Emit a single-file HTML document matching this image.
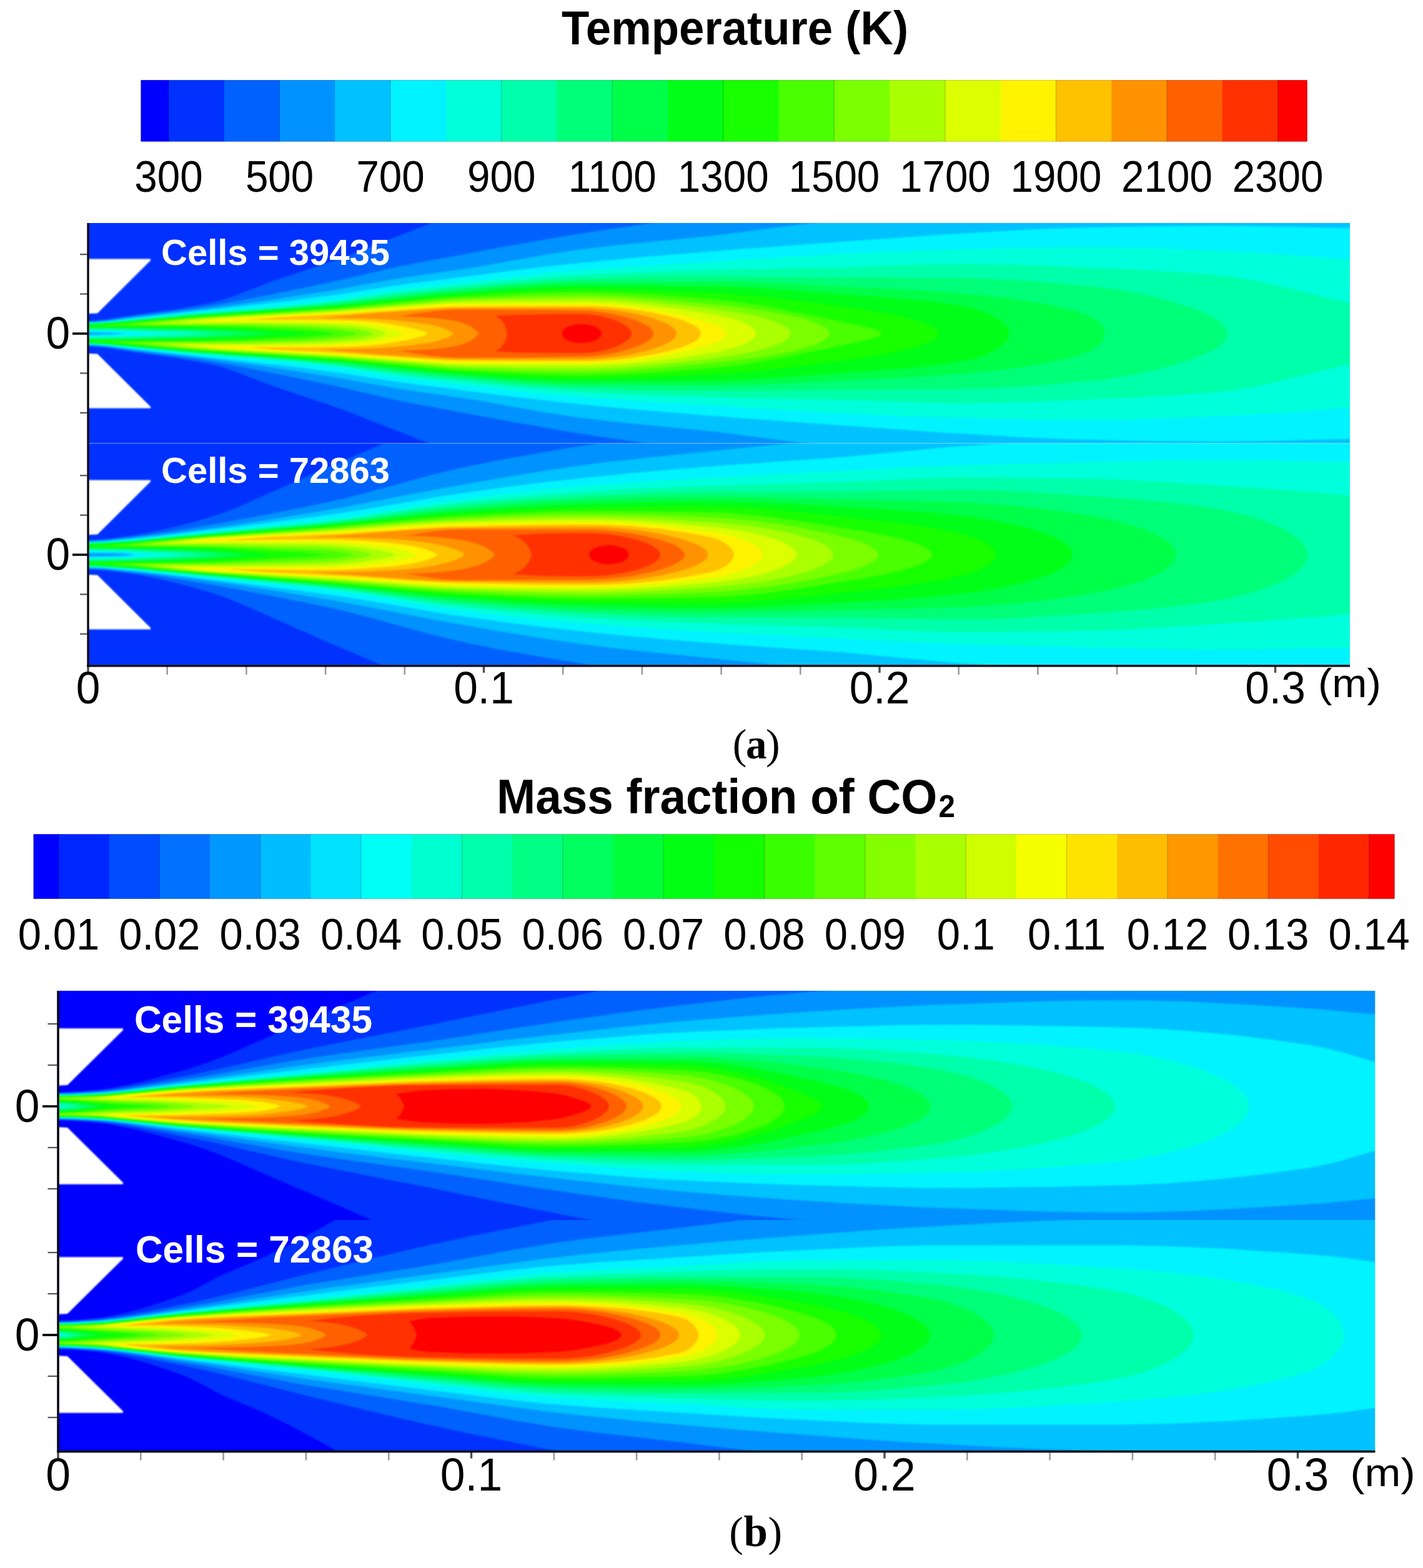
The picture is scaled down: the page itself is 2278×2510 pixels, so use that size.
<!DOCTYPE html>
<html lang="en"><head><meta charset="utf-8"><title>Figure</title>
<style>html,body{margin:0;padding:0;background:#fff}svg{display:block}</style></head>
<body>
<svg xmlns="http://www.w3.org/2000/svg" width="2278" height="2510" viewBox="0 0 2278 2510">
<defs><filter id="soft" x="-2%" y="-5%" width="104%" height="110%" color-interpolation-filters="sRGB"><feGaussianBlur stdDeviation="1.3"/></filter></defs>
<rect width="2278" height="2510" fill="#fff"/>
<text transform="translate(1176.5,71.2) scale(1,1.0407)" font-family="'Liberation Sans', Arial, Helvetica, sans-serif" font-size="72.6" font-weight="bold" text-anchor="middle" fill="#000">Temperature (K)</text>
<rect x="225.50" y="128.20" width="45.10" height="98.40" fill="#0000ff"/>
<rect x="270.00" y="128.20" width="89.38" height="98.40" fill="#0031ff"/>
<rect x="358.78" y="128.20" width="89.38" height="98.40" fill="#0061ff"/>
<rect x="447.56" y="128.20" width="89.38" height="98.40" fill="#0092ff"/>
<rect x="536.34" y="128.20" width="89.38" height="98.40" fill="#00c2ff"/>
<rect x="625.12" y="128.20" width="89.38" height="98.40" fill="#00f3ff"/>
<rect x="713.90" y="128.20" width="89.38" height="98.40" fill="#00ffdb"/>
<rect x="802.68" y="128.20" width="89.38" height="98.40" fill="#00ffaa"/>
<rect x="891.46" y="128.20" width="89.38" height="98.40" fill="#00ff79"/>
<rect x="980.24" y="128.20" width="89.38" height="98.40" fill="#00ff49"/>
<rect x="1069.02" y="128.20" width="89.38" height="98.40" fill="#00ff18"/>
<rect x="1157.80" y="128.20" width="89.38" height="98.40" fill="#18ff00"/>
<rect x="1246.58" y="128.20" width="89.38" height="98.40" fill="#49ff00"/>
<rect x="1335.36" y="128.20" width="89.38" height="98.40" fill="#79ff00"/>
<rect x="1424.14" y="128.20" width="89.38" height="98.40" fill="#aaff00"/>
<rect x="1512.92" y="128.20" width="89.38" height="98.40" fill="#dbff00"/>
<rect x="1601.70" y="128.20" width="89.38" height="98.40" fill="#fff300"/>
<rect x="1690.48" y="128.20" width="89.38" height="98.40" fill="#ffc200"/>
<rect x="1779.26" y="128.20" width="89.38" height="98.40" fill="#ff9200"/>
<rect x="1868.04" y="128.20" width="89.38" height="98.40" fill="#ff6100"/>
<rect x="1956.82" y="128.20" width="89.38" height="98.40" fill="#ff3100"/>
<rect x="2045.60" y="128.20" width="47.20" height="98.40" fill="#ff0000"/>
<rect x="269.40" y="128.20" width="1.2" height="98.40" fill="#000" opacity="0.2"/>
<rect x="446.96" y="128.20" width="1.2" height="98.40" fill="#000" opacity="0.2"/>
<rect x="624.52" y="128.20" width="1.2" height="98.40" fill="#000" opacity="0.2"/>
<rect x="802.08" y="128.20" width="1.2" height="98.40" fill="#000" opacity="0.2"/>
<rect x="979.64" y="128.20" width="1.2" height="98.40" fill="#000" opacity="0.2"/>
<rect x="1157.20" y="128.20" width="1.2" height="98.40" fill="#000" opacity="0.2"/>
<rect x="1334.76" y="128.20" width="1.2" height="98.40" fill="#000" opacity="0.2"/>
<rect x="1512.32" y="128.20" width="1.2" height="98.40" fill="#000" opacity="0.2"/>
<rect x="1689.88" y="128.20" width="1.2" height="98.40" fill="#000" opacity="0.2"/>
<rect x="1867.44" y="128.20" width="1.2" height="98.40" fill="#000" opacity="0.2"/>
<rect x="2045.00" y="128.20" width="1.2" height="98.40" fill="#000" opacity="0.2"/>
<rect x="226.00" y="128.70" width="1865.70" height="97.40" fill="none" stroke="#000" stroke-opacity="0.18" stroke-width="1"/>
<text transform="translate(270.0,307.0) scale(1,1.0650)" font-family="'Liberation Sans', Arial, Helvetica, sans-serif" font-size="65.6" font-weight="normal" text-anchor="middle" fill="#000">300</text>
<text transform="translate(447.6,307.0) scale(1,1.0650)" font-family="'Liberation Sans', Arial, Helvetica, sans-serif" font-size="65.6" font-weight="normal" text-anchor="middle" fill="#000">500</text>
<text transform="translate(625.1,307.0) scale(1,1.0650)" font-family="'Liberation Sans', Arial, Helvetica, sans-serif" font-size="65.6" font-weight="normal" text-anchor="middle" fill="#000">700</text>
<text transform="translate(802.7,307.0) scale(1,1.0650)" font-family="'Liberation Sans', Arial, Helvetica, sans-serif" font-size="65.6" font-weight="normal" text-anchor="middle" fill="#000">900</text>
<text transform="translate(980.2,307.0) scale(1,1.0650)" font-family="'Liberation Sans', Arial, Helvetica, sans-serif" font-size="65.6" font-weight="normal" text-anchor="middle" fill="#000">1100</text>
<text transform="translate(1157.8,307.0) scale(1,1.0650)" font-family="'Liberation Sans', Arial, Helvetica, sans-serif" font-size="65.6" font-weight="normal" text-anchor="middle" fill="#000">1300</text>
<text transform="translate(1335.4,307.0) scale(1,1.0650)" font-family="'Liberation Sans', Arial, Helvetica, sans-serif" font-size="65.6" font-weight="normal" text-anchor="middle" fill="#000">1500</text>
<text transform="translate(1512.9,307.0) scale(1,1.0650)" font-family="'Liberation Sans', Arial, Helvetica, sans-serif" font-size="65.6" font-weight="normal" text-anchor="middle" fill="#000">1700</text>
<text transform="translate(1690.5,307.0) scale(1,1.0650)" font-family="'Liberation Sans', Arial, Helvetica, sans-serif" font-size="65.6" font-weight="normal" text-anchor="middle" fill="#000">1900</text>
<text transform="translate(1868.0,307.0) scale(1,1.0650)" font-family="'Liberation Sans', Arial, Helvetica, sans-serif" font-size="65.6" font-weight="normal" text-anchor="middle" fill="#000">2100</text>
<text transform="translate(2045.6,307.0) scale(1,1.0650)" font-family="'Liberation Sans', Arial, Helvetica, sans-serif" font-size="65.6" font-weight="normal" text-anchor="middle" fill="#000">2300</text>
<clipPath id="at"><rect x="140.3" y="357.0" width="2020.7" height="352.8"/></clipPath>
<g clip-path="url(#at)"><g filter="url(#soft)">
<rect x="128.3" y="345.0" width="2044.7" height="376.8" fill="#0031ff"/>
<path d="M132.3,513.5 147,513.2 169,511.3 211,504.5 287,493.9 329,486.5 345,483.1 359,479.2 381,471.6 437,450 521,422 559,408.4 755,331.5 851,293.2 909,271.5 967,252.4 1029,233.5 1087,217.4 1141,204 2171,204 2171,864 1141,864 1087,850.6 1029,834.5 967,815.6 909,796.5 851,774.8 755,736.5 559,659.6 521,646 437,618 381,596.4 359,588.8 345,584.9 329,581.5 287,574.1 211,563.5 169,556.7 147,554.8 132.3,554.5Z" fill="#0061ff"/>
<path d="M132.3,514.6 149,514.2 171,512.4 209,506.7 313,493.2 361,485.6 405,477.2 497,458.5 551,446.8 625,429.6 663,421.7 809,394.5 905,377.8 967,368.1 1039,357.7 1249,328.9 1307,322 1343,318.9 1433,313 1487,310.4 1536,309.1 2171,309 2171,759 1536,758.9 1487,757.6 1433,755 1343,749.1 1307,746 1249,739.1 1039,710.3 967,699.9 905,690.2 809,673.5 663,646.3 625,638.4 551,621.2 497,609.5 405,590.8 361,582.4 313,574.8 209,561.3 171,555.6 149,553.8 132.3,553.4Z" fill="#0092ff"/>
<path d="M132.3,515.7 149,515.3 171,513.6 213,507.9 337,493.5 421,482 531,464.7 639,445.5 757,428.5 875,407.5 925,399.8 989,392.3 1145,377 1267,361.1 1317,355.8 1375,352.1 1455,348.7 1551,345.7 1663,343.2 1897,340.1 2170,340 2170,728 1897,727.9 1663,724.8 1551,722.3 1455,719.3 1375,715.9 1317,712.2 1267,706.9 1145,691 989,675.7 925,668.2 875,660.5 757,639.5 639,622.5 531,603.3 421,586 337,574.5 213,560.1 171,554.4 149,552.7 132.3,552.3Z" fill="#00c2ff"/>
<path d="M132.3,516.5 149,516.2 171,514.6 213,509.4 461,481.9 545,471 627,458.1 671,451.9 803,435.3 885,425.6 945,419.3 1019,412.3 1181,398.9 1509,375.6 1637,368.1 1709,364.9 1839,362.2 1945,361.3 2017,362.1 2170,365.5 2170,702.5 2017,705.9 1945,706.7 1839,705.8 1709,703.1 1637,699.9 1509,692.4 1181,669.1 1019,655.7 945,648.7 885,642.4 803,632.7 671,616.1 627,609.9 545,597 461,586.1 213,558.6 171,553.4 149,551.8 132.3,551.5Z" fill="#00f3ff"/>
<path d="M132.3,517 147,516.8 169,515.5 315,500.4 431,491.1 479,486.4 549,477.9 621,465.9 651,461.7 851,439.6 903,434.4 989,427.9 1135,419.4 1271,410.4 1333,406.9 1439,402.3 1531,399.3 1675,395.9 1767,395.4 1847,397.4 1977,402.6 2061,407.8 2170,416 2170,652 2061,660.2 1977,665.4 1847,670.6 1767,672.6 1675,672.1 1531,668.7 1439,665.7 1333,661.1 1271,657.6 1135,648.6 989,640.1 903,633.6 851,628.4 651,606.3 621,602.1 549,590.1 479,581.6 431,576.9 315,567.6 169,552.5 147,551.2 132.3,551Z" fill="#00ffdb"/>
<path d="M132.3,517.5 147,517.3 169,516 311,502.1 429,493.4 473,489.6 547,481.4 625,469.8 673,464 829,448.4 909,441.8 1007,436.7 1117,432.7 1347,427.9 1491,423.2 1557,422.7 1645,424.6 1817,431.5 1907,436.9 1945,440 1967,442.5 1999,447.5 2035,454.7 2067,462.2 2131,478.5 2161,485.3 2231,497.5 2293,510 2351,523.1 2393.7,534 2393.7,534 2351,544.9 2293,558 2231,570.5 2161,582.7 2131,589.5 2067,605.8 2035,613.3 1999,620.5 1967,625.5 1945,628 1907,631.1 1817,636.5 1645,643.4 1557,645.3 1491,644.8 1347,640.1 1117,635.3 1007,631.3 909,626.2 829,619.6 673,604 625,598.2 547,586.6 473,578.4 429,574.6 311,565.9 169,552 147,550.7 132.3,550.5Z" fill="#00ffaa"/>
<path d="M132.3,518 147,517.8 171,516.4 315,503.1 429,494.9 477,490.9 547,483.8 633,472.4 709,464.1 831,452.8 901,447.9 1019,444.1 1123,442.4 1519,445 1559,445.5 1595,446.7 1635,448.9 1679,452 1761,459.7 1791,463.9 1819,469 1849,475.6 1879,483.5 1907,492.5 1929,501.2 1945,509.2 1955,516.4 1959,520.4 1962,524.4 1964,528.4 1965,534 1965,534 1964,539.6 1962,543.6 1959,547.6 1955,551.6 1945,558.8 1929,566.8 1907,575.5 1879,584.5 1849,592.4 1819,599 1791,604.1 1761,608.3 1679,616 1635,619.1 1595,621.3 1559,622.5 1519,623 1123,625.6 1019,623.9 901,620.1 831,615.2 709,603.9 633,595.6 547,584.2 477,577.1 429,573.1 315,564.9 171,551.6 147,550.2 132.3,550Z" fill="#00ff79"/>
<path d="M132.3,518.7 149,518.4 173,517.1 319,503.9 437,495.7 505,490.3 553,485.7 631,476.1 705,468.1 811,458.6 859,454.9 895,452.9 927,452 1157,451.1 1197,451.8 1245,453.6 1457,463.8 1507,467 1551,470.6 1589,474.3 1625,478.7 1661,484.3 1691,490.1 1717,496.6 1739,503.8 1745,506.4 1751,509.7 1757,514 1761,517.7 1764,521.1 1767,525.9 1768.5,530 1769,534 1769,534 1768.5,538 1767,542.1 1764,546.9 1761,550.3 1757,554 1751,558.3 1745,561.6 1739,564.2 1717,571.4 1691,577.9 1661,583.7 1625,589.3 1589,593.7 1551,597.4 1507,601 1457,604.2 1245,614.4 1197,616.2 1157,616.9 927,616 895,615.1 859,613.1 811,609.4 705,599.9 631,591.9 553,582.3 505,577.7 437,572.3 319,564.1 173,550.9 149,549.6 132.3,549.3Z" fill="#00ff49"/>
<path d="M132.3,519.7 147,519.5 171,518.2 323,504.8 529,490.3 559,487.5 631,479.2 711,470.9 849,460 887,458.1 923,457.2 1115,458.1 1177,459.3 1241,462.9 1451,478.6 1491,482.5 1525,486.9 1545,490.3 1559,493.6 1575,499 1589,505.2 1601,512.5 1609,519.3 1613,524.4 1614.5,527.2 1615.5,530.1 1616,534 1616,534 1615.5,537.9 1614.5,540.8 1613,543.6 1609,548.7 1601,555.5 1589,562.8 1575,569 1559,574.4 1545,577.7 1525,581.1 1491,585.5 1451,589.4 1241,605.1 1177,608.7 1115,609.9 923,610.8 887,609.9 849,608 711,597.1 631,588.8 559,580.5 529,577.7 323,563.2 171,549.8 147,548.5 132.3,548.3Z" fill="#00ff18"/>
<path d="M141,522.5 169,519.3 317,506.4 545,491.1 687,476.3 733,472.2 815,466.5 863,463.9 907,462.4 951,462.3 1041,464.5 1163,470.3 1231,476.1 1311,485.6 1361,492.2 1397,497.8 1429,503.6 1455,509.5 1475,515.2 1491,521.7 1497,525.3 1500,527.8 1502,530.4 1503,534 1503,534 1502,537.6 1500,540.2 1497,542.7 1491,546.3 1475,552.8 1455,558.5 1429,564.4 1397,570.2 1361,575.8 1311,582.4 1231,591.9 1163,597.7 1041,603.5 951,605.7 907,605.6 863,604.1 815,601.5 733,595.8 687,591.7 545,576.9 317,561.6 169,548.7 141,545.5Z" fill="#18ff00"/>
<path d="M170.3,521.7 218.3,516 278.3,510.5 354.3,504.9 542.3,493.2 692.3,478.6 728.3,475.6 854.3,468.9 902.3,467.6 944.3,467.4 996.3,468.9 1056.3,472.3 1148.3,479.6 1190.3,484.6 1218.3,489 1248.3,494.5 1376.3,521.1 1392.3,525 1403,528.3 1409.5,531.6 1411,534 1411,534 1409.5,536.4 1403,539.7 1392.3,543 1376.3,546.9 1248.3,573.5 1218.3,579 1190.3,583.4 1148.3,588.4 1056.3,595.7 996.3,599.1 944.3,600.6 902.3,600.4 854.3,599.1 728.3,592.4 692.3,589.4 542.3,574.8 354.3,563.1 278.3,557.5 218.3,552 170.3,546.3Z" fill="#49ff00"/>
<path d="M210.5,519.8 252.5,514.5 306.5,509.6 358.5,505.9 542.5,495 724.5,478.8 848.5,473.8 900.5,472.7 944.5,472.6 998.5,474.5 1060.5,479.2 1164.5,489.5 1196.5,493.4 1224.5,497.5 1268.5,505.8 1286.5,510.3 1300.5,514.6 1312.5,519.4 1320.5,523.8 1324.5,527.1 1326.5,529.4 1328,534 1328,534 1326.5,538.6 1324.5,540.9 1320.5,544.2 1312.5,548.6 1300.5,553.4 1286.5,557.7 1268.5,562.2 1224.5,570.5 1196.5,574.6 1164.5,578.5 1060.5,588.8 998.5,593.5 944.5,595.4 900.5,595.3 848.5,594.2 724.5,589.2 542.5,573 358.5,562.1 306.5,558.4 252.5,553.5 210.5,548.2Z" fill="#79ff00"/>
<path d="M242.8,518.9 282.8,513.6 330.8,509.1 542.8,496.7 720.8,481.9 762.8,480.3 838.8,478.4 944.8,477.6 994.8,479.5 1048.8,483.7 1142.8,494.2 1180.8,499.9 1216.8,507.5 1232.8,512.1 1244.8,516.4 1254,520.7 1260.8,525.3 1264.8,529.8 1266,534 1266,534 1264.8,538.2 1260.8,542.7 1254,547.3 1244.8,551.6 1232.8,555.9 1216.8,560.5 1180.8,568.1 1142.8,573.8 1048.8,584.3 994.8,588.5 944.8,590.4 838.8,589.6 762.8,587.7 720.8,586.1 542.8,571.3 330.8,558.9 282.8,554.4 242.8,549.1Z" fill="#aaff00"/>
<path d="M280.4,517.3 312.4,512.8 346.4,509.6 540.4,498.6 718.4,484.7 740.4,484 818.4,483 946.4,482.6 992.4,484.6 1042.4,489 1094.4,495.6 1148.4,504.4 1172.4,510.2 1184.4,514.2 1193,517.8 1200.4,521.9 1205,525.2 1208.5,529.2 1210,534 1210,534 1208.5,538.8 1205,542.8 1200.4,546.1 1193,550.2 1184.4,553.8 1172.4,557.8 1148.4,563.6 1094.4,572.4 1042.4,579 992.4,583.4 946.4,585.4 818.4,585 740.4,584 718.4,583.3 540.4,569.4 346.4,558.4 312.4,555.2 280.4,550.7Z" fill="#dbff00"/>
<path d="M323.8,514.8 339.8,512.3 363.8,510.3 541.8,500.5 689.8,489.3 717.8,487.6 773.8,486.9 943.8,486.7 979.8,488.5 1015.8,492 1053.8,497.5 1091.8,504.8 1123.8,512.7 1145.8,519.8 1151.8,522.7 1157.8,526.8 1161,530.5 1162,534 1162,534 1161,537.5 1157.8,541.2 1151.8,545.3 1145.8,548.2 1123.8,555.3 1091.8,563.2 1053.8,570.5 1015.8,576 979.8,579.5 943.8,581.3 773.8,581.1 717.8,580.4 689.8,578.7 541.8,567.5 363.8,557.7 339.8,555.7 323.8,553.2Z" fill="#fff300"/>
<path d="M400,511.7 446,508 544,502.8 686,492.9 720,491 828,489.8 948,489.8 980,491.5 1012,494.9 1042,499.7 1070,505.8 1092,512.4 1108,519.2 1114,522.8 1118,526.1 1121,530 1122,534 1122,534 1121,538 1118,541.9 1114,545.2 1108,548.8 1092,555.6 1070,562.2 1042,568.3 1012,573.1 980,576.5 948,578.2 828,578.2 720,577 686,575.1 544,565.2 446,560 400,556.3Z" fill="#ffc200"/>
<path d="M510,509 604,501.1 692,494.9 720,493.4 742,493 932,493 948,493.4 972,495.2 996,498.3 1020,502.8 1042,508.5 1060,514.8 1072,520.7 1076,523.4 1080,527.1 1082,530 1083,534 1083,534 1082,538 1080,540.9 1076,544.6 1072,547.3 1060,553.2 1042,559.5 1020,565.2 996,569.7 972,572.8 948,574.6 932,575 742,575 720,574.6 692,573.1 604,566.9 510,559Z" fill="#ff9200"/>
<path d="M640,506.5 666,502 688,498.8 710,496.5 730,495.4 846,495.7 944,497.6 962,499.4 982,502.7 1000,506.9 1016,511.9 1029,517.4 1038,522.6 1044,528.3 1045.5,531.2 1046,534 1046,534 1045.5,536.8 1044,539.7 1038,545.4 1029,550.6 1016,556.1 1000,561.1 982,565.3 962,568.6 944,570.4 846,572.3 730,572.6 710,571.5 688,569.2 666,566 640,561.5Z" fill="#ff6100"/>
<path d="M792,505.5 830,503.7 876,502.9 934,502.7 950,504 962,506.1 974,509.1 984,512.5 994,516.8 1000,520.2 1006,524.7 1009.5,528.9 1010.5,531.1 1011,534 1011,534 1010.5,536.9 1009.5,539.1 1006,543.3 1000,547.8 994,551.2 984,555.5 974,558.9 962,561.9 950,564 934,565.3 876,565.1 830,564.3 792,562.5Z" fill="#ff3100"/>
<path d="M899.5,534 900.5,530.2 902.5,527.5 905.5,525 909.5,522.8 919.5,519.8 931.5,518.7 943.5,519.9 953.5,523.1 960,527.5 962,530.2 963,534 963,534 962,537.8 960,540.5 953.5,544.9 943.5,548.1 931.5,549.3 919.5,548.2 909.5,545.2 905.5,543 902.5,540.5 900.5,537.8 899.5,534Z" fill="#ff0000"/>
<path d="M792,505.5 796,507.4 800,510.2 806,517.1 810,525.7 812,534 812,534 810,542.3 806,550.9 800,557.8 796,560.6 792,562.5Z" fill="#ff6100"/>
<path d="M640,506.5 672,507.7 696,509.3 714,511.2 730,514 742,517.4 752,521.8 761,527.9 764.5,531.5 766,534 766,534 764.5,536.5 761,540.1 752,546.2 742,550.6 730,554 714,556.8 696,558.7 672,560.3 640,561.5Z" fill="#ff9200"/>
<path d="M510,509 568,509.6 600,510.6 630,512.6 664,516 686,519.2 704,523.3 718,528.5 723,531.3 726,534 726,534 723,536.7 718,539.5 704,544.7 686,548.8 664,552 630,555.4 600,557.4 568,558.4 510,559Z" fill="#ffc200"/>
<path d="M400,511.7 512,512 562,513.1 592,514.7 622,518.2 652,523.7 674,529 682,532 685,534 685,534 682,536 674,539 652,544.3 622,549.8 592,553.3 562,554.9 512,556 400,556.3Z" fill="#fff300"/>
<path d="M323.8,514.8 397.8,514 465.8,514.3 517.8,515.3 565.8,517.2 589.8,519.2 607.8,522.1 631.8,528.2 640,531.2 645,534 645,534 640,536.8 631.8,539.8 607.8,545.9 589.8,548.8 565.8,550.8 517.8,552.7 465.8,553.7 397.8,554 323.8,553.2Z" fill="#dbff00"/>
<path d="M280.4,517.3 330.4,516.5 404.4,516.4 480.4,517.4 530.4,519.2 566.4,521.5 588,524.1 598.4,526.2 606,528.4 614.4,531.7 618,534 618,534 614.4,536.3 606,539.6 598.4,541.8 588,543.9 566.4,546.5 530.4,548.8 480.4,550.6 404.4,551.6 330.4,551.5 280.4,550.7Z" fill="#aaff00"/>
<path d="M242.8,518.9 386.8,518.6 496.8,521.2 536.8,523.5 567,526.3 585,529.5 592.8,531.9 597,534 597,534 592.8,536.1 585,538.5 567,541.7 536.8,544.5 496.8,546.8 386.8,549.4 242.8,549.1Z" fill="#79ff00"/>
<path d="M210.5,519.8 380.5,521 476.5,523.8 508.5,525.5 538.5,528.1 560.5,531 568.5,532.7 572,534 572,534 568.5,535.3 560.5,537 538.5,539.9 508.5,542.5 476.5,544.2 380.5,547 210.5,548.2Z" fill="#49ff00"/>
<path d="M170.3,521.7 200.3,521.2 248.3,522 308.3,522.1 392.3,523.8 490.3,528.4 518.3,531.1 535,534 535,534 518.3,536.9 490.3,539.6 392.3,544.2 308.3,545.9 248.3,546 200.3,546.8 170.3,546.3Z" fill="#18ff00"/>
<path d="M141,522.5 165,523 199,522.6 305,523.9 373,525.9 403,527.3 461,531 481,532.6 490,534 490,534 481,535.4 461,537 403,540.7 373,542.1 305,544.1 199,545.4 165,545 141,545.5Z" fill="#00ff18"/>
<path d="M132.3,523.7 198.3,524.1 312.3,526.2 388.3,529.7 413,531.8 430,534 430,534 413,536.2 388.3,538.3 312.3,541.8 198.3,543.9 132.3,544.3Z" fill="#00ff49"/>
<path d="M132.3,525 196.3,525.6 304.3,528.1 366.3,531.9 386,534 386,534 366.3,536.1 304.3,539.9 196.3,542.4 132.3,543Z" fill="#00ff79"/>
<path d="M132.3,526.3 192.3,527.1 288.3,529.8 315,531.2 338,534 338,534 315,536.8 288.3,538.2 192.3,540.9 132.3,541.7Z" fill="#00ffaa"/>
<path d="M132.3,527.7 186.3,528.6 270.3,531.5 292.3,532.7 305,534 305,534 292.3,535.3 270.3,536.5 186.3,539.4 132.3,540.3Z" fill="#00ffdb"/>
<path d="M132.3,529.1 184.3,530.3 250.9,534 250.9,534 184.3,537.7 132.3,538.9Z" fill="#00f3ff"/>
<path d="M132.3,530.8 176.3,532 199.3,534 199.3,534 176.3,536 132.3,537.2Z" fill="#00c2ff"/>
<path d="M132.3,532.8 164.9,534 164.9,534 132.3,535.2Z" fill="#0092ff"/>
<polygon points="131.3,502.5 156.0,501.5 241.0,417.0 241.0,414.5 131.3,414.5" fill="#fff"/>
<polygon points="131.3,565.5 156.0,566.5 241.0,651.0 241.0,653.5 131.3,653.5" fill="#fff"/>
</g></g>
<clipPath id="ab"><rect x="140.3" y="709.8" width="2020.7" height="354.8"/></clipPath>
<g clip-path="url(#ab)"><g filter="url(#soft)">
<rect x="128.3" y="697.8" width="2044.7" height="378.8" fill="#0031ff"/>
<path d="M132.3,864 151,863.7 175,862 203,858.6 227,854.7 253,849.6 281,843 309,835.7 341,826.4 361,819.6 383,810.7 523,748.7 627,704.5 667,688.3 703,675.1 727,667.2 753,659.6 791,649.3 827,640.2 887,627.1 941,618 2171,618 2171,1158 941,1158 887,1148.9 827,1135.8 791,1126.7 753,1116.4 727,1108.8 703,1100.9 667,1087.7 627,1071.5 523,1027.3 383,965.3 361,956.4 341,949.6 309,940.3 281,933 253,926.4 227,921.3 203,917.4 175,914 151,912.3 132.3,912Z" fill="#0061ff"/>
<path d="M132.3,865.5 149,865.2 173,863.7 235,856.4 279,849.8 343,839.2 415,826.1 495,810.2 551,797.9 593,787.1 687,761.3 731,750.5 791,738.1 859,725.7 977,706.2 1073,691.8 1149,682.1 1249,671.2 1341,663 2171,663 2171,1113 1341,1113 1249,1104.8 1149,1093.9 1073,1084.2 977,1069.8 859,1050.3 791,1037.9 731,1025.5 687,1014.7 593,988.9 551,978.1 495,965.8 415,949.9 343,936.8 279,926.2 235,919.6 173,912.3 149,910.8 132.3,910.5Z" fill="#0092ff"/>
<path d="M132.3,866.9 147,866.7 169,865.5 223,860.1 301,850.7 377,840.2 479,823.9 545,812.7 707,781.8 795,766.3 865,754.7 923,746 969,740.1 1023,734.1 1313,704.4 1425,695.1 1493,690.3 1539,688.1 1655,684.3 1741,683 2171,683 2171,1093 1741,1093 1655,1091.7 1539,1087.9 1493,1085.7 1425,1080.9 1313,1071.6 1023,1041.9 969,1035.9 923,1030 865,1021.3 795,1009.7 707,994.2 545,963.3 479,952.1 377,935.8 301,925.3 223,915.9 169,910.5 147,909.3 132.3,909.1Z" fill="#00c2ff"/>
<path d="M132.3,868 167,866.8 213,862.6 269,856.6 369,844.6 479,830.6 543,821.7 587,814.7 711,793.5 805,780.3 873,771.8 937,764.7 1009,757.6 1087,750.8 1167,744.4 1345,732 1527,715 1611,709.4 1683,705.4 1813,700.5 1899,698.3 2170,698 2170,1078 1899,1077.7 1813,1075.5 1683,1070.6 1611,1066.6 1527,1061 1345,1044 1167,1031.6 1087,1025.2 1009,1018.4 937,1011.3 873,1004.2 805,995.7 711,982.5 587,961.3 543,954.3 479,945.4 369,931.4 269,919.4 213,913.4 167,909.2 132.3,908Z" fill="#00f3ff"/>
<path d="M132.3,868.7 169,867.4 223,863 429,842.3 503,834.1 551,828.1 591,822 705,803.3 781,793.5 847,786.2 911,780 975,774.9 1049,769.8 1191,761.5 1447,748.5 1511,745.7 1571,743.7 1861,737 1921,736.1 2011,736.5 2170,739.5 2170,1036.5 2011,1039.5 1921,1039.9 1861,1039 1571,1032.3 1511,1030.3 1447,1027.5 1191,1014.5 1049,1006.2 975,1001.1 911,996 847,989.8 781,982.5 705,972.7 591,954 551,947.9 503,941.9 429,933.7 223,913 169,908.6 132.3,907.3Z" fill="#00ffdb"/>
<path d="M132.3,869.3 169,868 217,864.5 495,837.8 561,830.1 671,813.2 723,806.2 819,796.5 907,789.2 993,784 1089,779.5 1171,776.5 1347,771.8 1487,765.3 1533,764.3 1613,764.6 1763,766.7 1809,768.5 1865,771.7 2017,781.6 2123,789.7 2191,796.3 2277,806.6 2337,815.3 2391,824.6 2437,834.4 2475,844.5 2491,849.8 2505,855.2 2517,860.7 2526.3,866 2533,870.8 2539,876.8 2542.3,882.6 2543.3,888 2543.3,888 2542.3,893.4 2539,899.2 2533,905.2 2526.3,910 2517,915.3 2505,920.8 2491,926.2 2475,931.5 2437,941.6 2391,951.4 2337,960.7 2277,969.4 2191,979.7 2123,986.3 2017,994.4 1865,1004.3 1809,1007.5 1763,1009.3 1613,1011.4 1533,1011.7 1487,1010.7 1347,1004.2 1171,999.5 1089,996.5 993,992 907,986.8 819,979.5 723,969.8 671,962.8 561,945.9 495,938.2 217,911.5 169,908 132.3,906.7Z" fill="#00ffaa"/>
<path d="M132.3,870 169,868.7 215,865.6 497,839.5 561,832.6 671,817.1 723,810.8 821,801.9 903,795.9 1029,789.7 1105,787.3 1359,786.9 1499,784.4 1553,784.2 1595,785.1 1641,787.2 1803,798 1849,802 1891,806.6 1929,811.6 1959,816.5 1987,822.7 2013,830.1 2037,838.9 2057,848.2 2071,856.7 2077,861.2 2083,866.8 2087,871.6 2090,876.4 2092,881.3 2093,888 2093,888 2092,894.7 2090,899.6 2087,904.4 2083,909.2 2077,914.8 2071,919.3 2057,927.8 2037,937.1 2013,945.9 1987,953.3 1959,959.5 1929,964.4 1891,969.4 1849,974 1803,978 1641,988.8 1595,990.9 1553,991.8 1499,991.6 1359,989.1 1105,988.7 1029,986.3 903,980.1 821,974.1 723,965.2 671,958.9 561,943.4 497,936.5 215,910.4 169,907.3 132.3,906Z" fill="#00ff79"/>
<path d="M132.3,870.9 177,869.1 215,866.6 325,856.1 505,840.5 563,834.6 663,821.9 707,816.8 741,813.6 833,806.1 913,801.2 1011,797.5 1095,795.4 1167,795.1 1469,801.8 1543,804.1 1577,805.9 1611,808.5 1647,812 1683,816.3 1735,823.8 1767,829.4 1799,836.9 1827,845.6 1839,850.2 1851,855.6 1861,861 1869,866.4 1875,871.6 1879,876.4 1882,882.2 1883,888 1883,888 1882,893.8 1879,899.6 1875,904.4 1869,909.6 1861,915 1851,920.4 1839,925.8 1827,930.4 1799,939.1 1767,946.6 1735,952.2 1683,959.7 1647,964 1611,967.5 1577,970.1 1543,971.9 1469,974.2 1167,980.9 1095,980.6 1011,978.5 913,974.8 833,969.9 741,962.4 707,959.2 663,954.1 563,941.4 505,935.5 325,919.9 215,909.4 177,906.9 132.3,905.1Z" fill="#00ff49"/>
<path d="M132.3,872 141,872 191,869.3 223,866.9 327,856.9 541,838.9 707,820.8 807,813.2 877,809 937,806.5 1065,803.2 1157,802.6 1197,803.4 1243,805.3 1419,815 1507,822 1545,826.1 1573,829.9 1605,835.5 1633,841.7 1657,848.3 1679,856.1 1695,863.6 1707,871.5 1711,875.2 1714,878.9 1716,882.8 1717,888 1717,888 1716,893.2 1714,897.1 1711,900.8 1707,904.5 1695,912.4 1679,919.9 1657,927.7 1633,934.3 1605,940.5 1573,946.1 1545,949.9 1507,954 1419,961 1243,970.7 1197,972.6 1157,973.4 1065,972.8 937,969.5 877,967 807,962.8 707,955.2 541,937.1 327,919.1 223,909.1 191,906.7 141,904 132.3,904Z" fill="#00ff18"/>
<path d="M141,875 163,872 211,868.9 327,857.9 527,841.9 675,827.2 739,822.1 841,816 913,813 1035,811.1 1147,810.5 1195,812.3 1253,817.1 1419,834.8 1461,840.1 1495,845.4 1519,849.9 1541,855 1555,859.1 1567,863.7 1579,869.8 1587,875.6 1591,879.9 1592.5,882.2 1593.5,884.7 1594,888 1594,888 1593.5,891.3 1592.5,893.8 1591,896.1 1587,900.4 1579,906.2 1567,912.3 1555,916.9 1541,921 1519,926.1 1495,930.6 1461,935.9 1419,941.2 1253,958.9 1195,963.7 1147,965.5 1035,964.9 913,963 841,960 739,953.9 675,948.8 527,934.1 327,918.1 211,907.1 163,904 141,901Z" fill="#18ff00"/>
<path d="M169.8,874.3 241.8,866.6 305.8,860.6 527.8,843.8 663.8,831.4 719.8,827 827.8,821 889.8,818.5 937.8,817.7 1025.8,818.2 1135.8,819.9 1167.8,821.1 1215.8,825.2 1269.8,832.4 1381.8,850 1413.8,856 1439.8,861.9 1463.8,868.8 1479.8,875.4 1485.8,879 1489,881.7 1491,884.4 1492,888 1492,888 1491,891.6 1489,894.3 1485.8,897 1479.8,900.6 1463.8,907.2 1439.8,914.1 1413.8,920 1381.8,926 1269.8,943.6 1215.8,950.8 1167.8,954.9 1135.8,956.1 1025.8,957.8 937.8,958.3 889.8,957.5 827.8,955 719.8,949 663.8,944.6 527.8,932.2 305.8,915.4 241.8,909.4 169.8,901.7Z" fill="#49ff00"/>
<path d="M206.4,873.3 252.4,866.9 314.4,860.8 528.4,845.9 656.4,835 704.4,831.4 798.4,826.6 868.4,823.8 924.4,822.7 978.4,822.9 1058.4,824.7 1152.4,828.6 1196.4,832.3 1244.4,838.5 1276.4,843.8 1310.4,850.4 1344.4,857.8 1366.4,863.6 1384.4,869.9 1396.4,875.9 1403,881.3 1405,884.1 1406,888 1406,888 1405,891.9 1403,894.7 1396.4,900.1 1384.4,906.1 1366.4,912.4 1344.4,918.2 1310.4,925.6 1276.4,932.2 1244.4,937.5 1196.4,943.7 1152.4,947.4 1058.4,951.3 978.4,953.1 924.4,953.3 868.4,952.2 798.4,949.4 704.4,944.6 656.4,941 528.4,930.1 314.4,915.2 252.4,909.1 206.4,902.7Z" fill="#79ff00"/>
<path d="M234.7,871.8 278.7,865.5 332.7,860.3 532.7,847.6 654.7,837.8 700.7,834.6 740.7,832.6 856.7,828.6 916.7,827.5 966.7,827.5 1044.7,830.1 1140.7,836 1184.7,840 1226.7,845.8 1250.7,850.2 1272.7,855.2 1290.7,860.2 1306.7,865.7 1318.7,871.3 1326.7,876.4 1330.7,880.2 1332.5,882.7 1333.5,885 1334,888 1334,888 1333.5,891 1332.5,893.3 1330.7,895.8 1326.7,899.6 1318.7,904.7 1306.7,910.3 1290.7,915.8 1272.7,920.8 1250.7,925.8 1226.7,930.2 1184.7,936 1140.7,940 1044.7,945.9 966.7,948.5 916.7,948.5 856.7,947.4 740.7,943.4 700.7,941.4 654.7,938.2 532.7,928.4 332.7,915.7 278.7,910.5 234.7,904.2Z" fill="#aaff00"/>
<path d="M266.6,870.1 302.6,864.4 340.6,860.6 448.6,854.9 540.6,849.3 654.6,840.4 700.6,837.3 738.6,835.7 846.6,832.9 914.6,832 964.6,832.1 1020.6,834.1 1080.6,838.1 1148.6,844.3 1186.6,849.7 1204.6,853.3 1222.6,857.7 1238.6,862.5 1252,867.6 1260.6,871.8 1268.6,877.2 1273.5,882.8 1274.6,885.3 1275,888 1275,888 1274.6,890.7 1273.5,893.2 1268.6,898.8 1260.6,904.2 1252,908.4 1238.6,913.5 1222.6,918.3 1204.6,922.7 1186.6,926.3 1148.6,931.7 1080.6,937.9 1020.6,941.9 964.6,943.9 914.6,944 846.6,943.1 738.6,940.3 700.6,938.7 654.6,935.6 540.6,926.7 448.6,921.1 340.6,915.4 302.6,911.6 266.6,905.9Z" fill="#dbff00"/>
<path d="M300.9,867.9 326.9,863.5 350.9,861.2 542.9,851.5 658.9,843 704.9,840.2 740.9,838.9 844.9,836.8 914.9,836 962.9,836.2 1008.9,838.1 1058.9,842 1114.9,848.4 1142.9,852.3 1156.9,854.8 1170.9,858 1182.9,861.5 1194.9,865.9 1204,870.1 1210.9,874.2 1216.9,879.2 1220,883.7 1221,888 1221,888 1220,892.3 1216.9,896.8 1210.9,901.8 1204,905.9 1194.9,910.1 1182.9,914.5 1170.9,918 1156.9,921.2 1142.9,923.7 1114.9,927.6 1058.9,934 1008.9,937.9 962.9,939.8 914.9,940 844.9,939.2 740.9,937.1 704.9,935.8 658.9,933 542.9,924.5 350.9,914.8 326.9,912.5 300.9,908.1Z" fill="#fff300"/>
<path d="M365,864.7 433,859.4 551,854 663,846.2 715,843.3 863,840.1 933,839.5 967,839.9 1011,842.1 1055,846.3 1097,852.2 1135,859.6 1143,861.5 1151,864.3 1157,867.2 1163,871 1169,876 1172,879.6 1174,883.2 1175,888 1175,888 1174,892.8 1172,896.4 1169,900 1163,905 1157,908.8 1151,911.7 1143,914.5 1135,916.4 1097,923.8 1055,929.7 1011,933.9 967,936.1 933,936.5 863,935.9 715,932.7 663,929.8 551,922 433,916.6 365,911.3Z" fill="#ffc200"/>
<path d="M485,860.3 555,856.3 665,848.1 715,845.6 867,843.7 943,843.5 967,844.1 997,846.1 1027,849.6 1057,854.5 1083,860.4 1105,867.2 1113,870.3 1121,874.3 1127,878.3 1130,881.1 1132,884 1133,888 1133,888 1132,892 1130,894.9 1127,897.7 1121,901.7 1113,905.7 1105,908.8 1083,915.6 1057,921.5 1027,926.4 997,929.9 967,931.9 943,932.5 867,932.3 715,930.4 665,927.9 555,919.7 485,915.7Z" fill="#ff9200"/>
<path d="M650,857.4 698,850.1 716,848.3 734,847.4 938,848 968,849 992,851.3 1016,854.8 1038,859.2 1058,864.4 1074,870 1086,875.9 1093,881.4 1095,884.2 1096,888 1096,888 1095,891.8 1093,894.6 1086,900.1 1074,906 1058,911.6 1038,916.8 1016,921.2 992,924.7 968,927 938,928 734,928.6 716,927.7 698,925.9 650,918.6Z" fill="#ff6100"/>
<path d="M821,857 861,854.5 911,853.6 951,853.7 965,854.5 981,856.2 997,858.8 1011,861.8 1025,865.8 1037,870.2 1045,874.1 1052,879 1055.5,883.1 1056.5,885.2 1057,888 1057,888 1056.5,890.8 1055.5,892.9 1052,897 1045,901.9 1037,905.8 1025,910.2 1011,914.2 997,917.2 981,919.8 965,921.5 951,922.3 911,922.4 861,921.5 821,919Z" fill="#ff3100"/>
<path d="M943,888 944,884.2 946,881.5 949,879.1 953,876.9 963,873.8 975,872.7 987,873.9 997,877 1001,879.3 1003.6,881.5 1005.6,884.2 1006.6,888 1006.6,888 1005.6,891.8 1003.6,894.5 1001,896.7 997,899 987,902.1 975,903.3 963,902.2 953,899.1 949,896.9 946,894.5 944,891.8 943,888Z" fill="#ff0000"/>
<path d="M821,857 827,859.2 833,862.4 841,869 847,877.3 849.5,882.7 851,888 851,888 849.5,893.3 847,898.7 841,907 833,913.6 827,916.8 821,919Z" fill="#ff6100"/>
<path d="M650,857.4 682,858.7 708,860.6 730,863.2 748,866.3 764,870.7 776,875.5 786,881.6 790,885.2 792,888 792,888 790,890.8 786,894.4 776,900.5 764,905.3 748,909.7 730,912.8 708,915.4 682,917.3 650,918.6Z" fill="#ff9200"/>
<path d="M485,860.3 529,859.9 575,860.7 627,862.8 661,865.5 689,869.3 715,875 733,881.1 741,885.3 744,888 744,888 741,890.7 733,894.9 715,901 689,906.7 661,910.5 627,913.2 575,915.3 529,916.1 485,915.7Z" fill="#ffc200"/>
<path d="M365,864.7 517,863.6 551,864.2 583,865.8 631,869.6 659,873.7 673,876.7 685,880.3 695,884.4 700.6,888 700.6,888 695,891.6 685,895.7 673,899.3 659,902.3 631,906.4 583,910.2 551,911.8 517,912.4 365,911.3Z" fill="#fff300"/>
<path d="M300.9,867.9 376.9,867 496.9,867.2 526.9,867.6 552.9,868.7 580.9,870.8 630.9,876.9 642.9,879.4 652.9,882.1 661,885.1 666,888 666,888 661,890.9 652.9,893.9 642.9,896.6 630.9,899.1 580.9,905.2 552.9,907.3 526.9,908.4 496.9,908.8 376.9,909 300.9,908.1Z" fill="#dbff00"/>
<path d="M266.6,870.1 376.6,869.6 500.6,871.1 532.6,872 562.6,874.2 580.6,876.4 618.6,883.2 628,885.7 633,888 633,888 628,890.3 618.6,892.8 580.6,899.6 562.6,901.8 532.6,904 500.6,904.9 376.6,906.4 266.6,905.9Z" fill="#aaff00"/>
<path d="M234.7,871.8 306.7,871.6 362.7,872 516.7,875.8 542.7,877.5 566.7,880.3 583,883.7 590.7,886.1 595,888 595,888 590.7,889.9 583,892.3 566.7,895.7 542.7,898.5 516.7,900.2 362.7,904 306.7,904.4 234.7,904.2Z" fill="#79ff00"/>
<path d="M206.4,873.3 334.4,874 498.4,879.7 520.4,880.9 538.4,882.7 556.4,885.5 565,888 565,888 556.4,890.5 538.4,893.3 520.4,895.1 498.4,896.3 334.4,902 206.4,902.7Z" fill="#49ff00"/>
<path d="M169.8,874.3 283.8,875.2 339.8,876.6 381.8,878.5 491.8,884.9 509.8,886.4 520,888 520,888 509.8,889.6 491.8,891.1 381.8,897.5 339.8,899.4 283.8,900.8 169.8,901.7Z" fill="#18ff00"/>
<path d="M141,875 277,877.1 327,878.6 393,883 419,885.6 436,888 436,888 419,890.4 393,893 327,897.4 277,898.9 141,901Z" fill="#00ff18"/>
<path d="M132.3,876.3 200.3,877.2 308.3,880.2 332.3,881.5 358.3,883.7 378.3,886 390,888 390,888 378.3,890 358.3,892.3 332.3,894.5 308.3,895.8 200.3,898.8 132.3,899.7Z" fill="#00ff49"/>
<path d="M132.3,877.7 198.3,878.6 286.3,881.6 330.3,884.5 344.3,886.2 354,888 354,888 344.3,889.8 330.3,891.5 286.3,894.4 198.3,897.4 132.3,898.3Z" fill="#00ff79"/>
<path d="M132.3,879.2 198.3,880 268.3,883.1 304.3,885.5 323.6,888 323.6,888 304.3,890.5 268.3,892.9 198.3,896 132.3,896.8Z" fill="#00ffaa"/>
<path d="M132.3,880.7 200.3,881.7 216.3,883 270.3,885.8 289.8,888 289.8,888 270.3,890.2 216.3,893 200.3,894.3 132.3,895.3Z" fill="#00ffdb"/>
<path d="M132.3,882.3 198.3,883.3 251.2,888 251.2,888 198.3,892.7 132.3,893.7Z" fill="#00f3ff"/>
<path d="M132.3,884.1 198,885.1 206.3,886.1 215,888 215,888 206.3,889.9 198,890.9 132.3,891.9Z" fill="#00c2ff"/>
<path d="M132.3,886.2 176.3,886.7 200,888 200,888 176.3,889.3 132.3,889.8Z" fill="#0092ff"/>
<polygon points="131.3,856.5 156.0,855.5 241.0,771.0 241.0,768.5 131.3,768.5" fill="#fff"/>
<polygon points="131.3,919.5 156.0,920.5 241.0,1005.0 241.0,1007.5 131.3,1007.5" fill="#fff"/>
</g></g>
<rect x="141.0" y="708.8" width="2020.0" height="2" fill="#fff" opacity="0.18"/>
<text transform="translate(258.0,424.0) scale(1,1.0000)" font-family="'Liberation Sans', Arial, Helvetica, sans-serif" font-size="58.0" font-weight="bold" text-anchor="start" fill="#fff" xml:space="preserve">Cells = 39435</text>
<text transform="translate(258.0,773.0) scale(1,1.0000)" font-family="'Liberation Sans', Arial, Helvetica, sans-serif" font-size="58.0" font-weight="bold" text-anchor="start" fill="#fff" xml:space="preserve">Cells = 72863</text>
<rect x="139.3" y="1065.9" width="3.4" height="11.0" fill="#505050"/>
<rect x="266.4" y="1065.9" width="2.6" height="14.0" fill="#9c9c9c"/>
<rect x="393.1" y="1065.9" width="2.6" height="14.0" fill="#9c9c9c"/>
<rect x="519.8" y="1065.9" width="2.6" height="14.0" fill="#9c9c9c"/>
<rect x="646.5" y="1065.9" width="2.6" height="14.0" fill="#9c9c9c"/>
<rect x="772.8" y="1065.9" width="3.4" height="11.0" fill="#505050"/>
<rect x="899.9" y="1065.9" width="2.6" height="14.0" fill="#9c9c9c"/>
<rect x="1026.6" y="1065.9" width="2.6" height="14.0" fill="#9c9c9c"/>
<rect x="1153.3" y="1065.9" width="2.6" height="14.0" fill="#9c9c9c"/>
<rect x="1280.0" y="1065.9" width="2.6" height="14.0" fill="#9c9c9c"/>
<rect x="1406.3" y="1065.9" width="3.4" height="11.0" fill="#505050"/>
<rect x="1533.4" y="1065.9" width="2.6" height="14.0" fill="#9c9c9c"/>
<rect x="1660.1" y="1065.9" width="2.6" height="14.0" fill="#9c9c9c"/>
<rect x="1786.8" y="1065.9" width="2.6" height="14.0" fill="#9c9c9c"/>
<rect x="1913.5" y="1065.9" width="2.6" height="14.0" fill="#9c9c9c"/>
<rect x="2039.8" y="1065.9" width="3.4" height="11.0" fill="#505050"/>
<rect x="128.0" y="406.1" width="13.0" height="2.2" fill="#555"/>
<rect x="128.0" y="469.5" width="13.0" height="2.2" fill="#555"/>
<rect x="128.0" y="596.3" width="13.0" height="2.2" fill="#555"/>
<rect x="128.0" y="659.7" width="13.0" height="2.2" fill="#555"/>
<rect x="116.0" y="532.2" width="25.0" height="3.6" fill="#000"/>
<text transform="translate(92.8,558.3) scale(1,1.0407)" font-family="'Liberation Sans', Arial, Helvetica, sans-serif" font-size="69.5" font-weight="normal" text-anchor="middle" fill="#000">0</text>
<rect x="128.0" y="760.1" width="13.0" height="2.2" fill="#555"/>
<rect x="128.0" y="823.5" width="13.0" height="2.2" fill="#555"/>
<rect x="128.0" y="950.3" width="13.0" height="2.2" fill="#555"/>
<rect x="128.0" y="1013.7" width="13.0" height="2.2" fill="#555"/>
<rect x="116.0" y="886.2" width="25.0" height="3.6" fill="#000"/>
<text transform="translate(92.8,912.3) scale(1,1.0407)" font-family="'Liberation Sans', Arial, Helvetica, sans-serif" font-size="69.5" font-weight="normal" text-anchor="middle" fill="#000">0</text>
<rect x="139.3" y="357.0" width="3.4" height="710.6" fill="#0a0a14"/>
<rect x="139.3" y="1064.2" width="2021.7" height="3.4" fill="#0a0a14"/>
<text transform="translate(141.0,1126.3) scale(1,1.0407)" font-family="'Liberation Sans', Arial, Helvetica, sans-serif" font-size="69.5" font-weight="normal" text-anchor="middle" fill="#000">0</text>
<text transform="translate(774.5,1126.3) scale(1,1.0407)" font-family="'Liberation Sans', Arial, Helvetica, sans-serif" font-size="69.5" font-weight="normal" text-anchor="middle" fill="#000">0.1</text>
<text transform="translate(1408.0,1126.3) scale(1,1.0407)" font-family="'Liberation Sans', Arial, Helvetica, sans-serif" font-size="69.5" font-weight="normal" text-anchor="middle" fill="#000">0.2</text>
<text transform="translate(2041.5,1126.3) scale(1,1.0407)" font-family="'Liberation Sans', Arial, Helvetica, sans-serif" font-size="69.5" font-weight="normal" text-anchor="middle" fill="#000">0.3</text>
<text transform="translate(2160.4,1116.2) scale(1,0.9640)" font-family="'Liberation Sans', Arial, Helvetica, sans-serif" font-size="67.3" font-weight="normal" text-anchor="middle" fill="#000">(m)</text>
<text transform="translate(1210.0,1214.3) scale(1,1.0000)" font-family="'Liberation Serif', 'Times New Roman', serif" font-size="68.0" font-weight="normal" text-anchor="middle" fill="#000" letter-spacing="-1.5">(<tspan font-weight="bold" font-size="67">a</tspan>)</text>
<text transform="translate(795.0,1301.5) scale(1,1.0407)" font-family="'Liberation Sans', Arial, Helvetica, sans-serif" font-size="74.7" font-weight="bold" text-anchor="start" fill="#000">Mass fraction of CO<tspan font-size="47.5" dy="6.5" dx="2">2</tspan></text>
<rect x="53.60" y="1335.30" width="41.00" height="103.50" fill="#0000ff"/>
<rect x="94.00" y="1335.30" width="81.28" height="103.50" fill="#0026ff"/>
<rect x="174.68" y="1335.30" width="81.28" height="103.50" fill="#004cff"/>
<rect x="255.36" y="1335.30" width="81.28" height="103.50" fill="#0071ff"/>
<rect x="336.04" y="1335.30" width="81.28" height="103.50" fill="#0097ff"/>
<rect x="416.72" y="1335.30" width="81.28" height="103.50" fill="#00bdff"/>
<rect x="497.40" y="1335.30" width="81.28" height="103.50" fill="#00e3ff"/>
<rect x="578.08" y="1335.30" width="81.28" height="103.50" fill="#00fff6"/>
<rect x="658.76" y="1335.30" width="81.28" height="103.50" fill="#00ffd0"/>
<rect x="739.44" y="1335.30" width="81.28" height="103.50" fill="#00ffaa"/>
<rect x="820.12" y="1335.30" width="81.28" height="103.50" fill="#00ff84"/>
<rect x="900.80" y="1335.30" width="81.28" height="103.50" fill="#00ff5e"/>
<rect x="981.48" y="1335.30" width="81.28" height="103.50" fill="#00ff39"/>
<rect x="1062.16" y="1335.30" width="81.28" height="103.50" fill="#00ff13"/>
<rect x="1142.84" y="1335.30" width="81.28" height="103.50" fill="#13ff00"/>
<rect x="1223.52" y="1335.30" width="81.28" height="103.50" fill="#39ff00"/>
<rect x="1304.20" y="1335.30" width="81.28" height="103.50" fill="#5eff00"/>
<rect x="1384.88" y="1335.30" width="81.28" height="103.50" fill="#84ff00"/>
<rect x="1465.56" y="1335.30" width="81.28" height="103.50" fill="#aaff00"/>
<rect x="1546.24" y="1335.30" width="81.28" height="103.50" fill="#d0ff00"/>
<rect x="1626.92" y="1335.30" width="81.28" height="103.50" fill="#f6ff00"/>
<rect x="1707.60" y="1335.30" width="81.28" height="103.50" fill="#ffe300"/>
<rect x="1788.28" y="1335.30" width="81.28" height="103.50" fill="#ffbd00"/>
<rect x="1868.96" y="1335.30" width="81.28" height="103.50" fill="#ff9700"/>
<rect x="1949.64" y="1335.30" width="81.28" height="103.50" fill="#ff7100"/>
<rect x="2030.32" y="1335.30" width="81.28" height="103.50" fill="#ff4c00"/>
<rect x="2111.00" y="1335.30" width="81.28" height="103.50" fill="#ff2600"/>
<rect x="2191.68" y="1335.30" width="40.92" height="103.50" fill="#ff0000"/>
<rect x="93.40" y="1335.30" width="1.2" height="103.50" fill="#000" opacity="0.2"/>
<rect x="254.76" y="1335.30" width="1.2" height="103.50" fill="#000" opacity="0.2"/>
<rect x="416.12" y="1335.30" width="1.2" height="103.50" fill="#000" opacity="0.2"/>
<rect x="577.48" y="1335.30" width="1.2" height="103.50" fill="#000" opacity="0.2"/>
<rect x="738.84" y="1335.30" width="1.2" height="103.50" fill="#000" opacity="0.2"/>
<rect x="900.20" y="1335.30" width="1.2" height="103.50" fill="#000" opacity="0.2"/>
<rect x="1061.56" y="1335.30" width="1.2" height="103.50" fill="#000" opacity="0.2"/>
<rect x="1222.92" y="1335.30" width="1.2" height="103.50" fill="#000" opacity="0.2"/>
<rect x="1384.28" y="1335.30" width="1.2" height="103.50" fill="#000" opacity="0.2"/>
<rect x="1545.64" y="1335.30" width="1.2" height="103.50" fill="#000" opacity="0.2"/>
<rect x="1707.00" y="1335.30" width="1.2" height="103.50" fill="#000" opacity="0.2"/>
<rect x="1868.36" y="1335.30" width="1.2" height="103.50" fill="#000" opacity="0.2"/>
<rect x="2029.72" y="1335.30" width="1.2" height="103.50" fill="#000" opacity="0.2"/>
<rect x="2191.08" y="1335.30" width="1.2" height="103.50" fill="#000" opacity="0.2"/>
<rect x="54.10" y="1335.80" width="2177.40" height="102.50" fill="none" stroke="#000" stroke-opacity="0.18" stroke-width="1"/>
<text transform="translate(94.0,1520.4) scale(1,1.0407)" font-family="'Liberation Sans', Arial, Helvetica, sans-serif" font-size="67.0" font-weight="normal" text-anchor="middle" fill="#000">0.01</text>
<text transform="translate(255.4,1520.4) scale(1,1.0407)" font-family="'Liberation Sans', Arial, Helvetica, sans-serif" font-size="67.0" font-weight="normal" text-anchor="middle" fill="#000">0.02</text>
<text transform="translate(416.7,1520.4) scale(1,1.0407)" font-family="'Liberation Sans', Arial, Helvetica, sans-serif" font-size="67.0" font-weight="normal" text-anchor="middle" fill="#000">0.03</text>
<text transform="translate(578.1,1520.4) scale(1,1.0407)" font-family="'Liberation Sans', Arial, Helvetica, sans-serif" font-size="67.0" font-weight="normal" text-anchor="middle" fill="#000">0.04</text>
<text transform="translate(739.4,1520.4) scale(1,1.0407)" font-family="'Liberation Sans', Arial, Helvetica, sans-serif" font-size="67.0" font-weight="normal" text-anchor="middle" fill="#000">0.05</text>
<text transform="translate(900.8,1520.4) scale(1,1.0407)" font-family="'Liberation Sans', Arial, Helvetica, sans-serif" font-size="67.0" font-weight="normal" text-anchor="middle" fill="#000">0.06</text>
<text transform="translate(1062.2,1520.4) scale(1,1.0407)" font-family="'Liberation Sans', Arial, Helvetica, sans-serif" font-size="67.0" font-weight="normal" text-anchor="middle" fill="#000">0.07</text>
<text transform="translate(1223.5,1520.4) scale(1,1.0407)" font-family="'Liberation Sans', Arial, Helvetica, sans-serif" font-size="67.0" font-weight="normal" text-anchor="middle" fill="#000">0.08</text>
<text transform="translate(1384.9,1520.4) scale(1,1.0407)" font-family="'Liberation Sans', Arial, Helvetica, sans-serif" font-size="67.0" font-weight="normal" text-anchor="middle" fill="#000">0.09</text>
<text transform="translate(1546.2,1520.4) scale(1,1.0407)" font-family="'Liberation Sans', Arial, Helvetica, sans-serif" font-size="67.0" font-weight="normal" text-anchor="middle" fill="#000">0.1</text>
<text transform="translate(1707.6,1520.4) scale(1,1.0407)" font-family="'Liberation Sans', Arial, Helvetica, sans-serif" font-size="67.0" font-weight="normal" text-anchor="middle" fill="#000">0.11</text>
<text transform="translate(1869.0,1520.4) scale(1,1.0407)" font-family="'Liberation Sans', Arial, Helvetica, sans-serif" font-size="67.0" font-weight="normal" text-anchor="middle" fill="#000">0.12</text>
<text transform="translate(2030.3,1520.4) scale(1,1.0407)" font-family="'Liberation Sans', Arial, Helvetica, sans-serif" font-size="67.0" font-weight="normal" text-anchor="middle" fill="#000">0.13</text>
<text transform="translate(2191.7,1520.4) scale(1,1.0407)" font-family="'Liberation Sans', Arial, Helvetica, sans-serif" font-size="67.0" font-weight="normal" text-anchor="middle" fill="#000">0.14</text>
<clipPath id="bt"><rect x="92.0" y="1586.0" width="2109.3" height="367.0"/></clipPath>
<g clip-path="url(#bt)"><g filter="url(#soft)">
<rect x="80.0" y="1574.0" width="2133.3" height="391.0" fill="#0000ff"/>
<path d="M84,1748.5 107,1748.1 135,1746.3 161,1743.9 183,1740.7 205,1736.4 231,1730.4 299,1711.9 331,1701.4 365,1688.2 463,1645.5 521,1621.3 605,1584.7 637,1571.8 665,1561.6 687,1554.7 719,1546 755,1536.8 787,1529.3 843,1518.2 869,1514.1 893,1511 2211.3,1511 2211.3,2031 893,2031 869,2027.9 843,2023.8 787,2012.7 755,2005.2 719,1996 687,1987.3 665,1980.4 637,1970.2 605,1957.3 521,1920.7 463,1896.5 365,1853.8 331,1840.6 299,1830.1 231,1811.6 205,1805.6 183,1801.3 161,1798.1 135,1795.7 107,1793.9 84,1793.5Z" fill="#0031ff"/>
<path d="M84,1749.5 117,1748.7 159,1745.9 187,1742.5 219,1737.3 333,1715 461,1686.1 513,1675.1 685,1641.2 861,1605.4 1005,1577 1073,1564.4 1143,1552.8 1219,1541.2 1293,1531 2211.3,1531 2211.3,2011 1293,2011 1219,2000.8 1143,1989.2 1073,1977.6 1005,1965 861,1936.6 685,1900.8 513,1866.9 461,1855.9 333,1827 219,1804.7 187,1799.5 159,1796.1 117,1793.3 84,1792.5Z" fill="#0061ff"/>
<path d="M84,1750.5 113,1749.9 153,1747.8 175,1745.9 201,1742.8 325,1723.3 445,1702 491,1694.4 545,1686.5 693,1666.3 855,1641.2 923,1631.3 1015,1618.6 1089,1609.3 1203,1596.3 1285,1588.6 1393,1580.8 1469,1576.8 1617,1573 1743,1571.2 1863,1571.4 2003,1573.7 2109,1576.5 2215,1582 2215,1960 2109,1965.5 2003,1968.3 1863,1970.6 1743,1970.8 1617,1969 1469,1965.2 1393,1961.2 1285,1953.4 1203,1945.7 1089,1932.7 1015,1923.4 923,1910.7 855,1900.8 693,1875.7 545,1855.5 491,1847.6 445,1840 325,1818.7 201,1799.2 175,1796.1 153,1794.2 113,1792.1 84,1791.5Z" fill="#0092ff"/>
<path d="M84,1751.3 113,1750.8 151,1749 173,1747.4 199,1744.7 333,1726.6 471,1707 543,1697.6 827,1663 997,1644 1077,1636 1165,1628.7 1257,1622 1373,1614.7 1473,1609.6 1641,1603.6 1739,1601.4 1821,1601.2 1909,1603.6 2021,1609.6 2117,1615.7 2215,1625 2215,1917 2117,1926.3 2021,1932.4 1909,1938.4 1821,1940.8 1739,1940.6 1641,1938.4 1473,1932.4 1373,1927.3 1257,1920 1165,1913.3 1077,1906 997,1898 827,1879 543,1844.4 471,1835 333,1815.4 199,1797.3 173,1794.6 151,1793 113,1791.2 84,1790.7Z" fill="#00c2ff"/>
<path d="M84,1752.1 107,1751.9 133,1750.9 161,1749.3 185,1747.2 467,1713.9 645,1693.5 791,1677.4 879,1668.5 1007,1657.9 1063,1654.1 1117,1651.2 1267,1645.2 1443,1640.9 1493,1640.5 1573,1640.8 1673,1642.1 1787,1644.4 1825,1645.5 1865,1647.5 1921,1651.7 1977,1657.1 2035,1664.1 2095,1672.6 2121,1677.6 2149,1684.6 2211,1702.9 2267,1718 2311,1731.5 2349,1744.7 2377,1755.9 2385,1759.9 2391.8,1764 2395.8,1768 2396.8,1771 2396.8,1771 2395.8,1774 2391.8,1778 2385,1782.1 2377,1786.1 2349,1797.3 2311,1810.5 2267,1824 2211,1839.1 2149,1857.4 2121,1864.4 2095,1869.4 2035,1877.9 1977,1884.9 1921,1890.3 1865,1894.5 1825,1896.5 1787,1897.6 1673,1899.9 1573,1901.2 1493,1901.5 1443,1901.1 1267,1896.8 1117,1890.8 1063,1887.9 1007,1884.1 879,1873.5 791,1864.6 645,1848.5 467,1828.1 185,1794.8 161,1792.7 133,1791.1 107,1790.1 84,1789.9Z" fill="#00f3ff"/>
<path d="M84,1752.7 125,1751.9 177,1748.9 283,1737.5 509,1715.4 681,1697.1 823,1684.6 977,1672.9 1065,1667.5 1175,1663.5 1261,1661.6 1343,1661.7 1511,1664.9 1565,1666.7 1617,1669.2 1679,1673.1 1739,1677.9 1797,1683.6 1829,1688.1 1863,1694.7 1897,1703.4 1927,1713.2 1953,1724.2 1963,1729.4 1973,1735.4 1981,1741.1 1988,1747.2 1993,1752.8 1997,1759.1 1999,1764.1 2000,1771 2000,1771 1999,1777.9 1997,1782.9 1993,1789.2 1988,1794.8 1981,1800.9 1973,1806.6 1963,1812.6 1953,1817.8 1927,1828.8 1897,1838.6 1863,1847.3 1829,1853.9 1797,1858.4 1739,1864.1 1679,1868.9 1617,1872.8 1565,1875.3 1511,1877.1 1343,1880.3 1261,1880.4 1175,1878.5 1065,1874.5 977,1869.1 823,1857.4 681,1844.9 509,1826.6 283,1804.5 177,1793.1 125,1790.1 84,1789.3Z" fill="#00ffdb"/>
<path d="M84,1753.3 125,1752.5 175,1749.7 285,1738.2 507,1718.1 653,1703.9 789,1692.4 865,1687 989,1680.1 1057,1677.6 1091,1677.2 1307,1677.3 1347,1678.2 1393,1680.3 1513,1688.8 1547,1692.2 1581,1696.4 1613,1701.2 1645,1706.9 1677,1713.8 1705,1721.1 1729,1728.9 1749,1736.9 1763,1744.2 1775,1752.9 1779,1756.9 1782,1761.1 1784,1765.3 1785,1771 1785,1771 1784,1776.7 1782,1780.9 1779,1785.1 1775,1789.1 1763,1797.8 1749,1805.1 1729,1813.1 1705,1820.9 1677,1828.2 1645,1835.1 1613,1840.8 1581,1845.6 1547,1849.8 1513,1853.2 1393,1861.7 1347,1863.8 1307,1864.7 1091,1864.8 1057,1864.4 989,1861.9 865,1855 789,1849.6 653,1838.1 507,1823.9 285,1803.8 175,1792.3 125,1789.5 84,1788.7Z" fill="#00ffaa"/>
<path d="M84,1753.8 123,1753.2 173,1750.5 277,1739.7 357,1732.6 645,1707.8 829,1693.4 885,1690.3 993,1686.6 1061,1685.2 1119,1685.1 1165,1686 1219,1687.9 1301,1691.5 1345,1694.1 1387,1697.4 1427,1701.4 1467,1706.2 1501,1711.3 1525,1716.2 1549,1722.5 1569,1729.3 1587,1737.2 1601,1745.2 1607,1749.6 1612,1754.2 1615,1757.7 1618.5,1763.7 1619.5,1766.8 1620,1771 1620,1771 1619.5,1775.2 1618.5,1778.3 1615,1784.3 1612,1787.8 1607,1792.4 1601,1796.8 1587,1804.8 1569,1812.7 1549,1819.5 1525,1825.8 1501,1830.7 1467,1835.8 1427,1840.6 1387,1844.6 1345,1847.9 1301,1850.5 1219,1854.1 1165,1856 1119,1856.9 1061,1856.8 993,1855.4 885,1851.7 829,1848.6 645,1834.2 357,1809.4 277,1802.3 173,1791.5 123,1788.8 84,1788.2Z" fill="#00ff79"/>
<path d="M84,1754.3 121,1753.8 169,1751.4 279,1740.2 371,1732.4 611,1713.5 829,1697.3 875,1695.1 931,1693.8 1025,1692.4 1103,1692.1 1131,1692.8 1161,1694.3 1231,1700.3 1321,1710.4 1353,1715.3 1381,1720.5 1405,1725.8 1427,1731.7 1445,1737.5 1461,1743.9 1473,1750.2 1483,1757.6 1487,1762.2 1488.5,1764.8 1489.5,1767.4 1490,1771 1490,1771 1489.5,1774.6 1488.5,1777.2 1487,1779.8 1483,1784.4 1473,1791.8 1461,1798.1 1445,1804.5 1427,1810.3 1405,1816.2 1381,1821.5 1353,1826.7 1321,1831.6 1231,1841.7 1161,1847.7 1131,1849.2 1103,1849.9 1025,1849.6 931,1848.2 875,1846.9 829,1844.7 611,1828.5 371,1809.6 279,1801.8 169,1790.6 121,1788.2 84,1787.7Z" fill="#00ff49"/>
<path d="M84,1754.8 119,1754.4 167,1752.2 279,1740.8 375,1733 527,1721.9 707,1709.9 831,1700.8 887,1698.8 1099,1698.5 1119,1699.2 1141,1700.8 1165,1703.4 1189,1706.7 1239,1715.7 1317,1732.4 1349,1741.5 1362,1746.3 1373,1751.3 1381,1756 1387,1760.9 1390.5,1765.5 1391.5,1767.8 1392,1771 1392,1771 1391.5,1774.2 1390.5,1776.5 1387,1781.1 1381,1786 1373,1790.7 1362,1795.7 1349,1800.5 1317,1809.6 1239,1826.3 1189,1835.3 1165,1838.6 1141,1841.2 1119,1842.8 1099,1843.5 887,1843.2 831,1841.2 707,1832.1 527,1820.1 375,1809 279,1801.2 167,1789.8 119,1787.6 84,1787.2Z" fill="#00ff18"/>
<path d="M84,1755.4 117,1755 163,1753.1 191,1750.7 279,1741.5 377,1733.9 513,1724.7 707,1713.1 823,1705.1 857,1703.6 887,1703 1019,1703.8 1095,1705 1113,1706 1145,1709.8 1177,1715.9 1201,1721.9 1225,1728.9 1249,1736.9 1275,1746.6 1297,1755.7 1307,1760.7 1313,1765.1 1315,1767.6 1316,1771 1316,1771 1315,1774.4 1313,1776.9 1307,1781.3 1297,1786.3 1275,1795.4 1249,1805.1 1225,1813.1 1201,1820.1 1177,1826.1 1145,1832.2 1113,1836 1095,1837 1019,1838.2 887,1839 857,1838.4 823,1836.9 707,1828.9 513,1817.3 377,1808.1 279,1800.5 191,1791.3 163,1788.9 117,1787 84,1786.6Z" fill="#18ff00"/>
<path d="M84,1756.1 121,1755.6 165,1753.8 295,1741.1 409,1733.1 543,1725 705,1716.3 829,1708.8 879,1707.4 933,1707.5 1013,1709.5 1097,1713.2 1127,1716.1 1157,1721 1177,1725.4 1197,1731 1215,1737.3 1229,1743.5 1241,1750.4 1249,1756.9 1253,1761.8 1254.5,1764.5 1255.5,1767.2 1256,1771 1256,1771 1255.5,1774.8 1254.5,1777.5 1253,1780.2 1249,1785.1 1241,1791.6 1229,1798.5 1215,1804.7 1197,1811 1177,1816.6 1157,1821 1127,1825.9 1097,1828.8 1013,1832.5 933,1834.5 879,1834.6 829,1833.2 705,1825.7 543,1817 409,1808.9 295,1800.9 165,1788.2 121,1786.4 84,1785.9Z" fill="#49ff00"/>
<path d="M84,1757 119,1756.6 163,1754.8 293,1742.4 399,1735.4 537,1727.5 817,1713.3 869,1711.7 915,1711.6 975,1713.2 1037,1716.6 1097,1721.4 1125,1725.7 1143,1730 1159,1734.9 1173,1740.3 1185,1746.2 1195,1752.7 1201,1758 1205.5,1764.5 1206.5,1767.3 1207,1771 1207,1771 1206.5,1774.7 1205.5,1777.5 1201,1784 1195,1789.3 1185,1795.8 1173,1801.7 1159,1807.1 1143,1812 1125,1816.3 1097,1820.6 1037,1825.4 975,1828.8 915,1830.4 869,1830.3 817,1828.7 537,1814.5 399,1806.6 293,1799.6 163,1787.2 119,1785.4 84,1785Z" fill="#79ff00"/>
<path d="M111.1,1758.5 163.1,1755.4 287.1,1744 429.1,1735.4 615.1,1725.8 793.1,1717.8 855.1,1715.8 907.1,1715.5 957.1,1717.2 1007.1,1720.7 1061.1,1726.5 1091.1,1730.7 1103.1,1732.9 1115.1,1736.1 1125.1,1739.6 1135.1,1743.9 1145.1,1749.4 1151.1,1753.7 1157.1,1759.4 1161,1765.8 1162,1771 1162,1771 1161,1776.2 1157.1,1782.6 1151.1,1788.3 1145.1,1792.6 1135.1,1798.1 1125.1,1802.4 1115.1,1805.9 1103.1,1809.1 1091.1,1811.3 1061.1,1815.5 1007.1,1821.3 957.1,1824.8 907.1,1826.5 855.1,1826.2 793.1,1824.2 615.1,1816.2 429.1,1806.6 287.1,1798 163.1,1786.6 111.1,1783.5Z" fill="#aaff00"/>
<path d="M143.8,1758.3 197.8,1752.5 255.8,1747.4 309.8,1743.6 381.8,1739.6 669.8,1725.8 819.8,1720.3 863.8,1719.4 901.8,1719.2 943.8,1720.9 987.8,1724.9 1029.8,1730.9 1069.8,1738.9 1095.8,1745.9 1101.8,1748.4 1107.8,1751.6 1115,1756.9 1119.8,1762.2 1122,1766.1 1123,1771 1123,1771 1122,1775.9 1119.8,1779.8 1115,1785.1 1107.8,1790.4 1101.8,1793.6 1095.8,1796.1 1069.8,1803.1 1029.8,1811.1 987.8,1817.1 943.8,1821.1 901.8,1822.8 863.8,1822.6 819.8,1821.7 669.8,1816.2 381.8,1802.4 309.8,1798.4 255.8,1794.6 197.8,1789.5 143.8,1783.7Z" fill="#dbff00"/>
<path d="M171.9,1757.7 209.9,1753 257.9,1748.6 309.9,1745 375.9,1741.6 669.9,1728.5 815.9,1724 901.9,1723.1 935.9,1724.5 969.9,1727.8 1001.9,1732.7 1031.9,1739.1 1057.9,1746.9 1067.9,1750.9 1075.9,1754.9 1082,1758.8 1087,1763.5 1089,1766.7 1090,1771 1090,1771 1089,1775.3 1087,1778.5 1082,1783.2 1075.9,1787.1 1067.9,1791.1 1057.9,1795.1 1031.9,1802.9 1001.9,1809.3 969.9,1814.2 935.9,1817.5 901.9,1818.9 815.9,1818 669.9,1813.5 375.9,1800.4 309.9,1797 257.9,1793.4 209.9,1789 171.9,1784.3Z" fill="#fff300"/>
<path d="M200,1756.5 254,1750.9 320,1746.3 604,1733.5 674,1731 778,1728.5 846,1727.3 900,1727.1 928,1728.4 956,1731.3 984,1736 1010,1742.1 1030,1748.5 1046,1755.9 1052,1759.9 1056,1763.7 1058,1766.8 1059,1771 1059,1771 1058,1775.2 1056,1778.3 1052,1782.1 1046,1786.1 1030,1793.5 1010,1799.9 984,1806 956,1810.7 928,1813.6 900,1814.9 846,1814.7 778,1813.5 674,1811 604,1808.5 320,1795.7 254,1791.1 200,1785.5Z" fill="#ffc200"/>
<path d="M240,1754.6 286,1750.4 346,1746.8 618,1735.3 678,1733.3 782,1731.2 900,1730.1 922,1731.4 946,1734.4 968,1738.6 990,1744.6 1008,1751.4 1020,1758 1026.5,1763.7 1028.5,1766.8 1029.5,1771 1029.5,1771 1028.5,1775.2 1026.5,1778.3 1020,1784 1008,1790.6 990,1797.4 968,1803.4 946,1807.6 922,1810.6 900,1811.9 782,1810.8 678,1808.7 618,1806.7 346,1795.2 286,1791.6 240,1787.4Z" fill="#ff9200"/>
<path d="M325.2,1751.4 445.2,1744.7 639.2,1736.3 775.2,1733.8 899.2,1733.1 917.2,1734.4 935.2,1737.1 953.2,1741.2 971.2,1746.9 985.2,1752.9 995,1758.9 999.2,1762.7 1001.2,1765.2 1002.5,1768 1003,1771 1003,1771 1002.5,1774 1001.2,1776.8 999.2,1779.3 995,1783.1 985.2,1789.1 971.2,1795.1 953.2,1800.8 935.2,1804.9 917.2,1807.6 899.2,1808.9 775.2,1808.2 639.2,1805.7 445.2,1797.3 325.2,1790.6Z" fill="#ff6100"/>
<path d="M465.5,1748.8 491.5,1746.3 561.5,1741.6 607.5,1739.1 647.5,1737.6 689.5,1737 897.5,1737.1 909.5,1738.1 923.5,1740.6 937.5,1744.4 949.5,1748.9 961.5,1755 969.5,1760.9 973.5,1765.8 974.5,1768 975,1771 975,1771 974.5,1774 973.5,1776.2 969.5,1781.1 961.5,1787 949.5,1793.1 937.5,1797.6 923.5,1801.4 909.5,1803.9 897.5,1804.9 689.5,1805 647.5,1804.4 607.5,1802.9 561.5,1800.4 491.5,1795.7 465.5,1793.2Z" fill="#ff3100"/>
<path d="M634,1751 656,1747.7 676,1745.5 724,1743.6 784,1743.1 846,1745.9 880,1749.2 894,1751.2 904,1753.3 926,1759.7 936,1763.2 944,1767.6 945.5,1769.3 946,1771 946,1771 945.5,1772.7 944,1774.4 936,1778.8 926,1782.3 904,1788.7 894,1790.8 880,1792.8 846,1796.1 784,1798.9 724,1798.4 676,1796.5 656,1794.3 634,1791Z" fill="#ff0000"/>
<path d="M634,1751 638,1754.5 642,1759.8 645.5,1766.4 647,1771 647,1771 645.5,1775.6 642,1782.2 638,1787.5 634,1791Z" fill="#ff3100"/>
<path d="M465.5,1748.8 505.5,1751.1 521.5,1753 537.5,1755.7 551.5,1758.9 563.5,1762.7 573,1767 578,1771 578,1771 573,1775 563.5,1779.3 551.5,1783.1 537.5,1786.3 521.5,1789 505.5,1790.9 465.5,1793.2Z" fill="#ff6100"/>
<path d="M325.2,1751.4 377.2,1751.7 415.2,1752.5 441.2,1753.8 473.2,1756.3 493.2,1758.8 507.2,1761.7 521,1766.4 526,1768.8 529,1771 529,1771 526,1773.2 521,1775.6 507.2,1780.3 493.2,1783.2 473.2,1785.7 441.2,1788.2 415.2,1789.5 377.2,1790.3 325.2,1790.6Z" fill="#ff9200"/>
<path d="M240,1754.6 284,1754.2 342,1754.9 380,1755.8 412,1757.3 436,1759.4 466,1763.7 484,1767.4 490,1769.4 493,1771 493,1771 490,1772.6 484,1774.6 466,1778.3 436,1782.6 412,1784.7 380,1786.2 342,1787.1 284,1787.8 240,1787.4Z" fill="#ffc200"/>
<path d="M200,1756.5 286,1757 380,1760.2 404,1761.9 422,1764 440,1767.6 450,1771 450,1771 440,1774.4 422,1778 404,1780.1 380,1781.8 286,1785 200,1785.5Z" fill="#fff300"/>
<path d="M171.9,1757.7 277.9,1759.7 349.9,1763 371.9,1764.5 391.9,1766.5 407,1768.8 415,1771 415,1771 407,1773.2 391.9,1775.5 371.9,1777.5 349.9,1779 277.9,1782.3 171.9,1784.3Z" fill="#dbff00"/>
<path d="M143.8,1758.3 187.8,1760.2 249.8,1761.6 281.8,1763.1 347,1767.8 362,1769.5 370,1771 370,1771 362,1772.5 347,1774.2 281.8,1778.9 249.8,1780.4 187.8,1781.8 143.8,1783.7Z" fill="#aaff00"/>
<path d="M111.1,1758.5 187.1,1762.2 255.1,1764.7 291.1,1767.6 315,1771 315,1771 291.1,1774.4 255.1,1777.3 187.1,1779.8 111.1,1783.5Z" fill="#79ff00"/>
<path d="M84,1759.1 118,1760.2 182,1764.3 242,1767 262,1768.8 275,1771 275,1771 262,1773.2 242,1775 182,1777.7 118,1781.8 84,1782.9Z" fill="#49ff00"/>
<path d="M84,1760.4 120,1761.8 178,1766.5 228,1769.6 240,1771 240,1771 228,1772.4 178,1775.5 120,1780.2 84,1781.6Z" fill="#18ff00"/>
<path d="M84,1761.8 98,1762.1 122,1763.6 190,1771 190,1771 122,1778.4 98,1779.9 84,1780.2Z" fill="#00ff18"/>
<path d="M84,1763.2 98,1763.5 120,1765.1 144,1768 160,1771 160,1771 144,1774 120,1776.9 98,1778.5 84,1778.8Z" fill="#00ff49"/>
<path d="M84,1764.8 94,1764.9 116,1766.5 132,1768.8 142,1771 142,1771 132,1773.2 116,1775.5 94,1777.1 84,1777.2Z" fill="#00ff79"/>
<path d="M84,1766.4 92,1766.4 110,1767.9 120,1769.3 127,1771 127,1771 120,1772.7 110,1774.1 92,1775.6 84,1775.6Z" fill="#00ffaa"/>
<path d="M84,1768.3 98,1768.8 113,1771 113,1771 98,1773.2 84,1773.7Z" fill="#00ffdb"/>
<path d="M84,1770.8 93,1771 93,1771 84,1771.2Z" fill="#00f3ff"/>
<polygon points="83.0,1738.1 108.0,1737.1 197.0,1648.9 197.0,1646.3 83.0,1646.3" fill="#fff"/>
<polygon points="83.0,1803.9 108.0,1804.9 197.0,1893.1 197.0,1895.7 83.0,1895.7" fill="#fff"/>
</g></g>
<clipPath id="bb"><rect x="92.0" y="1953.0" width="2109.3" height="369.3"/></clipPath>
<g clip-path="url(#bb)"><g filter="url(#soft)">
<rect x="80.0" y="1941.0" width="2133.3" height="393.3" fill="#0000ff"/>
<path d="M84,2114.5 107,2114 135,2112 161,2109.2 185,2105.1 209,2099.5 233,2092.8 261,2083.7 293,2072.4 311,2064.4 353,2042 423,2012.2 463,1992.8 497,1974.8 547,1946.9 625,1901.2 645,1890.7 663,1882.5 677,1877 689,1873.1 751,1857.1 795,1847.4 835,1840.9 865,1838 892,1837 2211.3,1837 2211.3,2437 892,2437 865,2436 835,2433.1 795,2426.6 751,2416.9 689,2400.9 677,2397 663,2391.5 645,2383.3 625,2372.8 547,2327.1 497,2299.2 463,2281.2 423,2261.8 353,2232 311,2209.6 293,2201.6 261,2190.3 233,2181.2 209,2174.5 185,2168.9 161,2164.8 135,2162 107,2160 84,2159.5Z" fill="#0031ff"/>
<path d="M84,2115.5 119,2114.4 163,2110.9 195,2106.6 235,2099.6 303,2086 337,2078.5 379,2068.3 479,2042.7 615,2009.7 685,1993.5 757,1978.1 905,1948.6 1009,1927.1 1059,1917.6 1093,1912 1155,1903 1203,1896.7 1249,1891.4 1293,1887 2211.3,1887 2211.3,2387 1293,2387 1249,2382.6 1203,2377.3 1155,2371 1093,2362 1059,2356.4 1009,2346.9 905,2325.4 757,2295.9 685,2280.5 615,2264.3 479,2231.3 379,2205.7 337,2195.5 303,2188 235,2174.4 195,2167.4 163,2163.1 119,2159.6 84,2158.5Z" fill="#0061ff"/>
<path d="M84,2116.5 115,2115.7 159,2112.8 191,2109.3 227,2104.1 331,2086.7 489,2056.8 695,2024.1 833,1998.5 889,1989.3 957,1980.4 1099,1964.3 1221,1948.9 1267,1944.1 1323,1940 1399,1936 1639,1925.6 1723,1922.9 1789,1922 2215,1922 2215,2352 1789,2352 1723,2351.1 1639,2348.4 1399,2338 1323,2334 1267,2329.9 1221,2325.1 1099,2309.7 957,2293.6 889,2284.7 833,2275.5 695,2249.9 489,2217.2 331,2187.3 227,2169.9 191,2164.7 159,2161.2 115,2158.3 84,2157.5Z" fill="#0092ff"/>
<path d="M84,2117.3 113,2116.6 153,2114.4 179,2112.1 207,2108.8 329,2091.3 501,2064.9 875,2014.6 939,2007.5 1011,2000.2 1177,1985.7 1373,1970.8 1449,1965.5 1601,1957.3 1689,1953.4 1741,1951.8 1787,1951 2097,1950 2175,1947.3 2215,1947 2215,2327 2175,2326.7 2097,2324 1787,2323 1741,2322.2 1689,2320.6 1601,2316.7 1449,2308.5 1373,2303.2 1177,2288.3 1011,2273.8 939,2266.5 875,2259.4 501,2209.1 329,2182.7 207,2165.2 179,2161.9 153,2159.6 113,2157.4 84,2156.7Z" fill="#00c2ff"/>
<path d="M84,2118.1 109,2117.6 147,2115.7 195,2111.4 285,2099.5 607,2058.7 803,2034.7 871,2027.3 957,2020.7 1211,2005 1373,1996.9 1435,1994.5 1485,1993.6 1799,1993.6 1867,1994.8 1965,1999.1 2099,2007.9 2149,2013.1 2215,2022 2215,2252 2149,2260.9 2099,2266.1 1965,2274.9 1867,2279.2 1799,2280.4 1485,2280.4 1435,2279.5 1373,2277.1 1211,2269 957,2253.3 871,2246.7 803,2239.3 607,2215.3 285,2174.5 195,2162.6 147,2158.3 109,2156.4 84,2155.9Z" fill="#00f3ff"/>
<path d="M84,2118.7 127,2117.6 157,2115.8 179,2113.9 285,2101.3 515,2077.6 803,2044.4 847,2040 887,2036.7 955,2032.7 1099,2026.1 1203,2020.2 1251,2018.2 1291,2017.5 1515,2017.6 1577,2018.8 1645,2021.5 1723,2025.9 1819,2032.3 1869,2036.6 1915,2041.7 1959,2047.8 1999,2054.6 2035,2062 2069,2070.6 2095,2078.7 2111,2085.9 2119,2090.8 2127,2096.5 2135,2103.6 2141,2110.2 2145,2115.6 2149,2123.1 2151,2129 2152,2137 2152,2137 2151,2145 2149,2150.9 2145,2158.4 2141,2163.8 2135,2170.4 2127,2177.5 2119,2183.2 2111,2188.1 2095,2195.3 2069,2203.4 2035,2212 1999,2219.4 1959,2226.2 1915,2232.3 1869,2237.4 1819,2241.7 1723,2248.1 1645,2252.5 1577,2255.2 1515,2256.4 1291,2256.5 1251,2255.8 1203,2253.8 1099,2247.9 955,2241.3 887,2237.3 847,2234 803,2229.6 515,2196.4 285,2172.7 179,2160.1 157,2158.2 127,2156.4 84,2155.3Z" fill="#00ffdb"/>
<path d="M84,2119.3 123,2118.4 173,2115.2 287,2102.1 505,2081.2 797,2050.4 863,2044.6 901,2042.4 963,2039.9 1187,2033.1 1257,2031.6 1315,2031.4 1373,2032.6 1441,2035 1523,2038.8 1585,2042.7 1639,2047.3 1691,2052.8 1739,2059.1 1783,2066.2 1809,2071.4 1833,2078.2 1855,2086.4 1875,2096 1889,2104.9 1895,2109.6 1901,2115.3 1905,2120.2 1908,2125.1 1910,2130.2 1911,2137 1911,2137 1910,2143.8 1908,2148.9 1905,2153.8 1901,2158.7 1895,2164.4 1889,2169.1 1875,2178 1855,2187.6 1833,2195.8 1809,2202.6 1783,2207.8 1739,2214.9 1691,2221.2 1639,2226.7 1585,2231.3 1523,2235.2 1441,2239 1373,2241.4 1315,2242.6 1257,2242.4 1187,2240.9 963,2234.1 901,2231.6 863,2229.4 797,2223.6 505,2192.8 287,2171.9 173,2158.8 123,2155.6 84,2154.7Z" fill="#00ffaa"/>
<path d="M84,2119.8 121,2119.1 169,2116.2 293,2102.2 517,2081.8 803,2054.1 859,2049.7 889,2048.1 953,2046 1051,2043.8 1145,2043.6 1299,2044.3 1341,2045.3 1385,2047.5 1435,2051.1 1495,2056.3 1523,2059.3 1551,2063 1579,2067.6 1605,2072.7 1633,2079.3 1659,2086.8 1681,2094.6 1699,2102.6 1713,2110.8 1719,2115.3 1724,2119.9 1727,2123.5 1730.5,2129.6 1731.5,2132.7 1732,2137 1732,2137 1731.5,2141.3 1730.5,2144.4 1727,2150.5 1724,2154.1 1719,2158.7 1713,2163.2 1699,2171.4 1681,2179.4 1659,2187.2 1633,2194.7 1605,2201.3 1579,2206.4 1551,2211 1523,2214.7 1495,2217.7 1435,2222.9 1385,2226.5 1341,2228.7 1299,2229.7 1145,2230.4 1051,2230.2 953,2228 889,2225.9 859,2224.3 803,2219.9 517,2192.2 293,2171.8 169,2157.8 121,2154.9 84,2154.2Z" fill="#00ff79"/>
<path d="M84,2120.3 119,2119.7 167,2117 267,2105.6 313,2101.2 705,2067.8 797,2059.2 841,2055.7 885,2053.4 973,2051.3 1055,2050.1 1121,2050.2 1169,2051.1 1221,2052.9 1297,2056.3 1335,2058.7 1375,2062.1 1413,2066.4 1449,2071.4 1483,2077.1 1505,2081.6 1525,2087.2 1545,2094.7 1561,2102.5 1574,2110.9 1583,2119 1586,2122.8 1589,2128 1590.5,2132.5 1591,2137 1591,2137 1590.5,2141.5 1589,2146 1586,2151.2 1583,2155 1574,2163.1 1561,2171.5 1545,2179.3 1525,2186.8 1505,2192.4 1483,2196.9 1449,2202.6 1413,2207.6 1375,2211.9 1335,2215.3 1297,2217.7 1221,2221.1 1169,2222.9 1121,2223.8 1055,2223.9 973,2222.7 885,2220.6 841,2218.3 797,2214.8 705,2206.2 313,2172.8 267,2168.4 167,2157 119,2154.3 84,2153.7Z" fill="#00ff49"/>
<path d="M84,2120.8 117,2120.3 165,2117.8 275,2105.5 347,2099 481,2088.2 705,2071.6 797,2063.4 837,2060.4 871,2058.7 903,2058 1015,2056.8 1107,2056.6 1141,2057.5 1177,2059.2 1261,2065.9 1301,2069.8 1325,2072.7 1353,2077 1379,2082 1403,2087.6 1425,2093.9 1445,2100.9 1461,2108 1472,2114.3 1481,2121.4 1484,2124.6 1487,2129.2 1488.5,2133.1 1489,2137 1489,2137 1488.5,2140.9 1487,2144.8 1484,2149.4 1481,2152.6 1472,2159.7 1461,2166 1445,2173.1 1425,2180.1 1403,2186.4 1379,2192 1353,2197 1325,2201.3 1301,2204.2 1261,2208.1 1177,2214.8 1141,2216.5 1107,2217.4 1015,2217.2 903,2216 871,2215.3 837,2213.6 797,2210.6 705,2202.4 481,2185.8 347,2175 275,2168.5 165,2156.2 117,2153.7 84,2153.2Z" fill="#00ff18"/>
<path d="M84,2121.4 117,2120.9 163,2118.6 189,2116.1 277,2106.1 369,2098.3 501,2088.4 703,2075.3 797,2067.4 835,2064.8 887,2063 1099,2063 1121,2063.7 1145,2065.2 1195,2070.7 1259,2080.9 1303,2088.8 1329,2094.4 1347,2099 1363,2103.9 1377,2109 1389,2114.4 1399,2120.2 1405,2125.1 1409.5,2131.1 1410.5,2133.6 1411,2137 1411,2137 1410.5,2140.4 1409.5,2142.9 1405,2148.9 1399,2153.8 1389,2159.6 1377,2165 1363,2170.1 1347,2175 1329,2179.6 1303,2185.2 1259,2193.1 1195,2203.3 1145,2208.8 1121,2210.3 1099,2211 887,2211 835,2209.2 797,2206.6 703,2198.7 501,2185.6 369,2175.7 277,2167.9 189,2157.9 163,2155.4 117,2153.1 84,2152.6Z" fill="#18ff00"/>
<path d="M84,2122.1 117,2121.6 161,2119.5 187,2117.1 277,2107 373,2099.2 505,2090.2 705,2078.6 817,2070.5 849,2068.8 879,2068 963,2068.3 1053,2069.9 1113,2071.9 1135,2073.6 1157,2076.1 1201,2082.9 1229,2088.4 1257,2095 1287,2103.2 1305,2109.1 1321,2116.5 1331,2123.3 1334,2126.2 1337,2130.2 1338.5,2133.6 1339,2137 1339,2137 1338.5,2140.4 1337,2143.8 1334,2147.8 1331,2150.7 1321,2157.5 1305,2164.9 1287,2170.8 1257,2179 1229,2185.6 1201,2191.1 1157,2197.9 1135,2200.4 1113,2202.1 1053,2204.1 963,2205.7 879,2206 849,2205.2 817,2203.5 705,2195.4 505,2183.8 373,2174.8 277,2167 187,2156.9 161,2154.5 117,2152.4 84,2151.9Z" fill="#49ff00"/>
<path d="M84,2123 115,2122.6 161,2120.3 287,2107 373,2100.6 471,2094.3 705,2081.9 827,2074.4 875,2072.8 923,2072.8 1005,2074.9 1097,2079.2 1135,2082.7 1171,2088 1193,2092.4 1215,2097.9 1235,2104.1 1251,2110.4 1263,2116.6 1273,2123.8 1277,2128.4 1278.5,2130.9 1279.5,2133.5 1280,2137 1280,2137 1279.5,2140.5 1278.5,2143.1 1277,2145.6 1273,2150.2 1263,2157.4 1251,2163.6 1235,2169.9 1215,2176.1 1193,2181.6 1171,2186 1135,2191.3 1097,2194.8 1005,2199.1 923,2201.2 875,2201.2 827,2199.6 705,2192.1 471,2179.7 373,2173.4 287,2167 161,2153.7 115,2151.4 84,2151Z" fill="#79ff00"/>
<path d="M111.5,2124.4 161.5,2120.9 243.5,2112 283.5,2108.2 419.5,2099.1 543.5,2092.4 811.5,2079.3 865.5,2077.6 913.5,2077.4 975.5,2079.1 1043.5,2082.8 1101.5,2087.3 1119.5,2089.6 1135.5,2092.3 1153.5,2096.3 1171.5,2101.3 1187.5,2106.8 1201.5,2113 1212.6,2119.7 1219.5,2125.7 1223.5,2131.7 1224.6,2137 1224.6,2137 1223.5,2142.3 1219.5,2148.3 1212.6,2154.3 1201.5,2161 1187.5,2167.2 1171.5,2172.7 1153.5,2177.7 1135.5,2181.7 1119.5,2184.4 1101.5,2186.7 1043.5,2191.2 975.5,2194.9 913.5,2196.6 865.5,2196.4 811.5,2194.7 543.5,2181.6 419.5,2174.9 283.5,2165.8 243.5,2162 161.5,2153.1 111.5,2149.6Z" fill="#aaff00"/>
<path d="M144,2124.1 194,2117.5 252,2111.7 310,2107.2 388,2102.5 606,2091.6 776,2084.6 850,2082.3 910,2081.9 960,2083.4 1014,2086.5 1076,2092.1 1098,2094.6 1112,2097 1128,2100.7 1142,2104.9 1155,2110 1166,2115.4 1174,2120.5 1180,2125.9 1184,2132 1185,2137 1185,2137 1184,2142 1180,2148.1 1174,2153.5 1166,2158.6 1155,2164 1142,2169.1 1128,2173.3 1112,2177 1098,2179.4 1076,2181.9 1014,2187.5 960,2190.6 910,2192.1 850,2191.7 776,2189.4 606,2182.4 388,2171.5 310,2166.8 252,2162.3 194,2156.5 144,2149.9Z" fill="#dbff00"/>
<path d="M170.7,2123.4 206.7,2117.9 252.7,2112.9 304.7,2108.9 370.7,2105.1 668.7,2091.6 820.7,2086.9 868.7,2086.1 908.7,2086.1 956.7,2087.7 1004.7,2091.2 1052.7,2096.5 1096.7,2103.2 1106.7,2105.7 1116.7,2109.1 1126,2113.2 1134.7,2118.2 1141,2122.9 1146,2128.4 1148,2132.1 1149,2137 1149,2137 1148,2141.9 1146,2145.6 1141,2151.1 1134.7,2155.8 1126,2160.8 1116.7,2164.9 1106.7,2168.3 1096.7,2170.8 1052.7,2177.5 1004.7,2182.8 956.7,2186.3 908.7,2187.9 868.7,2187.9 820.7,2187.1 668.7,2182.4 370.7,2168.9 304.7,2165.1 252.7,2161.1 206.7,2156.1 170.7,2150.6Z" fill="#fff300"/>
<path d="M196.7,2122.2 230.7,2117.3 272.7,2113.1 316.7,2110 374.7,2106.9 672.7,2094.6 822.7,2090.3 870.7,2089.6 910.7,2089.6 958.7,2091.4 1004.7,2095 1046.7,2100.4 1082.7,2107.2 1096.7,2111 1101,2113.2 1106.7,2117.3 1110.7,2121.2 1115,2127 1117,2131.3 1118,2137 1118,2137 1117,2142.7 1115,2147 1110.7,2152.8 1106.7,2156.7 1101,2160.8 1096.7,2163 1082.7,2166.8 1046.7,2173.6 1004.7,2179 958.7,2182.6 910.7,2184.4 870.7,2184.4 822.7,2183.7 672.7,2179.4 374.7,2167.1 316.7,2164 272.7,2160.9 230.7,2156.7 196.7,2151.8Z" fill="#ffc200"/>
<path d="M238,2119.7 282,2114.3 332,2110.9 608,2098.9 676,2096.5 796,2093.3 858,2092.2 906,2092.1 938,2093.6 972,2096.9 1004,2101.8 1032,2107.7 1054,2114 1064,2117.7 1072,2121.4 1079,2125.6 1084,2130 1086,2132.9 1087,2137 1087,2137 1086,2141.1 1084,2144 1079,2148.4 1072,2152.6 1064,2156.3 1054,2160 1032,2166.3 1004,2172.2 972,2177.1 938,2180.4 906,2181.9 858,2181.8 796,2180.7 676,2177.5 608,2175.1 332,2163.1 282,2159.7 238,2154.3Z" fill="#ff9200"/>
<path d="M304.1,2116.4 436.1,2109.1 642.1,2100 806.1,2095.9 866.1,2095.1 906.1,2095.2 934.1,2096.8 962.1,2100.1 988.1,2104.6 1012.1,2110.4 1032.1,2117 1046.1,2123.7 1050.1,2126.4 1054.1,2130.1 1056.1,2133.1 1057,2137 1057,2137 1056.1,2140.9 1054.1,2143.9 1050.1,2147.6 1046.1,2150.3 1032.1,2157 1012.1,2163.6 988.1,2169.4 962.1,2173.9 934.1,2177.2 906.1,2178.8 866.1,2178.9 806.1,2178.1 642.1,2174 436.1,2164.9 304.1,2157.6Z" fill="#ff6100"/>
<path d="M494,2114 532,2110 572,2106.6 614,2103.9 656,2102 792,2099.6 906,2099.3 928,2100.9 950,2104 970,2108 990,2113.4 1004,2118.5 1016,2124.5 1023,2130.2 1025,2133.1 1026,2137 1026,2137 1025,2140.9 1023,2143.8 1016,2149.5 1004,2155.5 990,2160.6 970,2166 950,2170 928,2173.1 906,2174.7 792,2174.4 656,2172 614,2170.1 572,2167.4 532,2164 494,2160Z" fill="#ff3100"/>
<path d="M656,2115 674,2111.6 688,2109.8 754,2107.5 824,2107.2 896,2110.2 912,2111.7 930,2114.4 956,2119.5 970,2122.8 980,2125.9 988,2129.4 993.5,2133.5 995,2137 995,2137 993.5,2140.5 988,2144.6 980,2148.1 970,2151.2 956,2154.5 930,2159.6 912,2162.3 896,2163.8 824,2166.8 754,2166.5 688,2164.2 674,2162.4 656,2159Z" fill="#ff0000"/>
<path d="M656,2115 662,2123.9 665.5,2131.7 667,2137 667,2137 665.5,2142.3 662,2150.1 656,2159Z" fill="#ff3100"/>
<path d="M494,2114 526,2116.9 540,2119.1 554,2122.1 566,2125.4 576,2129.1 584,2133.3 588,2137 588,2137 584,2140.7 576,2144.9 566,2148.6 554,2151.9 540,2154.9 526,2157.1 494,2160Z" fill="#ff6100"/>
<path d="M304.1,2116.4 354.1,2116.8 402.1,2117.8 436.1,2119.2 466.1,2121.3 486.1,2123.7 500.1,2126.7 514.1,2131.8 519.5,2134.7 522.5,2137 522.5,2137 519.5,2139.3 514.1,2142.2 500.1,2147.3 486.1,2150.3 466.1,2152.7 436.1,2154.8 402.1,2156.2 354.1,2157.2 304.1,2157.6Z" fill="#ff9200"/>
<path d="M238,2119.7 278,2119.4 332,2120.4 364,2121.6 408,2124.2 434,2126.5 458,2129.7 474,2133.3 480,2135.3 483,2137 483,2137 480,2138.7 474,2140.7 458,2144.3 434,2147.5 408,2149.8 364,2152.4 332,2153.6 278,2154.6 238,2154.3Z" fill="#ffc200"/>
<path d="M196.7,2122.2 274.7,2122.4 342.7,2125.2 370.7,2127.5 404.7,2131.2 424.7,2134.3 434,2137 434,2137 424.7,2139.7 404.7,2142.8 370.7,2146.5 342.7,2148.8 274.7,2151.6 196.7,2151.8Z" fill="#fff300"/>
<path d="M170.7,2123.4 260.7,2125.2 310.7,2127.7 352.7,2131.4 370.7,2134.3 381,2137 381,2137 370.7,2139.7 352.7,2142.6 310.7,2146.3 260.7,2148.8 170.7,2150.6Z" fill="#dbff00"/>
<path d="M144,2124.1 240,2127.5 276,2129.4 318,2133.2 332,2135.1 340,2137 340,2137 332,2138.9 318,2140.8 276,2144.6 240,2146.5 144,2149.9Z" fill="#aaff00"/>
<path d="M111.5,2124.4 239.5,2130.5 277.5,2133.9 289.5,2135.4 297,2137 297,2137 289.5,2138.6 277.5,2140.1 239.5,2143.5 111.5,2149.6Z" fill="#79ff00"/>
<path d="M84,2125.1 114,2126 218,2132.2 242,2134.4 257,2137 257,2137 242,2139.6 218,2141.8 114,2148 84,2148.9Z" fill="#49ff00"/>
<path d="M84,2126.4 110,2127.3 192,2133.3 214,2135.3 225,2137 225,2137 214,2138.7 192,2140.7 110,2146.7 84,2147.6Z" fill="#18ff00"/>
<path d="M84,2127.8 112,2129 191,2137 191,2137 112,2145 84,2146.2Z" fill="#00ff18"/>
<path d="M84,2129.2 94,2129.3 112,2130.7 155,2137 155,2137 112,2143.3 94,2144.7 84,2144.8Z" fill="#00ff49"/>
<path d="M84,2130.8 92,2130.8 110,2132.3 122,2134.3 132,2137 132,2137 122,2139.7 110,2141.7 92,2143.2 84,2143.2Z" fill="#00ff79"/>
<path d="M84,2132.4 92,2132.4 106,2133.8 114,2135.1 120,2137 120,2137 114,2138.9 106,2140.2 92,2141.6 84,2141.6Z" fill="#00ffaa"/>
<path d="M84,2134.3 96,2134.6 109,2137 109,2137 96,2139.4 84,2139.7Z" fill="#00ffdb"/>
<path d="M84,2136.8 93,2137 93,2137 84,2137.2Z" fill="#00f3ff"/>
<polygon points="83.0,2104.1 108.0,2103.1 197.0,2014.9 197.0,2012.3 83.0,2012.3" fill="#fff"/>
<polygon points="83.0,2169.9 108.0,2170.9 197.0,2259.1 197.0,2261.7 83.0,2261.7" fill="#fff"/>
</g></g>
<rect x="93.0" y="1952.0" width="2108.5" height="2" fill="#fff" opacity="0.00"/>
<text transform="translate(215.0,1653.0) scale(1,1.0000)" font-family="'Liberation Sans', Arial, Helvetica, sans-serif" font-size="60.4" font-weight="bold" text-anchor="start" fill="#fff" xml:space="preserve">Cells = 39435</text>
<text transform="translate(217.0,2021.0) scale(1,1.0000)" font-family="'Liberation Sans', Arial, Helvetica, sans-serif" font-size="60.4" font-weight="bold" text-anchor="start" fill="#fff" xml:space="preserve">Cells = 72863</text>
<rect x="91.3" y="2323.6" width="3.4" height="11.0" fill="#505050"/>
<rect x="224.0" y="2323.6" width="2.6" height="14.0" fill="#9c9c9c"/>
<rect x="356.3" y="2323.6" width="2.6" height="14.0" fill="#9c9c9c"/>
<rect x="488.6" y="2323.6" width="2.6" height="14.0" fill="#9c9c9c"/>
<rect x="620.9" y="2323.6" width="2.6" height="14.0" fill="#9c9c9c"/>
<rect x="752.8" y="2323.6" width="3.4" height="11.0" fill="#505050"/>
<rect x="885.5" y="2323.6" width="2.6" height="14.0" fill="#9c9c9c"/>
<rect x="1017.8" y="2323.6" width="2.6" height="14.0" fill="#9c9c9c"/>
<rect x="1150.1" y="2323.6" width="2.6" height="14.0" fill="#9c9c9c"/>
<rect x="1282.4" y="2323.6" width="2.6" height="14.0" fill="#9c9c9c"/>
<rect x="1414.3" y="2323.6" width="3.4" height="11.0" fill="#505050"/>
<rect x="1547.0" y="2323.6" width="2.6" height="14.0" fill="#9c9c9c"/>
<rect x="1679.3" y="2323.6" width="2.6" height="14.0" fill="#9c9c9c"/>
<rect x="1811.6" y="2323.6" width="2.6" height="14.0" fill="#9c9c9c"/>
<rect x="1943.9" y="2323.6" width="2.6" height="14.0" fill="#9c9c9c"/>
<rect x="2075.8" y="2323.6" width="3.4" height="11.0" fill="#505050"/>
<rect x="76.5" y="1637.9" width="16.5" height="2.2" fill="#555"/>
<rect x="76.5" y="1703.9" width="16.5" height="2.2" fill="#555"/>
<rect x="76.5" y="1835.9" width="16.5" height="2.2" fill="#555"/>
<rect x="76.5" y="1901.9" width="16.5" height="2.2" fill="#555"/>
<rect x="68.0" y="1769.2" width="25.0" height="3.6" fill="#000"/>
<text transform="translate(43.6,1796.2) scale(1,1.0407)" font-family="'Liberation Sans', Arial, Helvetica, sans-serif" font-size="71.5" font-weight="normal" text-anchor="middle" fill="#000">0</text>
<rect x="76.5" y="2003.9" width="16.5" height="2.2" fill="#555"/>
<rect x="76.5" y="2069.9" width="16.5" height="2.2" fill="#555"/>
<rect x="76.5" y="2201.9" width="16.5" height="2.2" fill="#555"/>
<rect x="76.5" y="2267.9" width="16.5" height="2.2" fill="#555"/>
<rect x="68.0" y="2135.2" width="25.0" height="3.6" fill="#000"/>
<text transform="translate(43.6,2162.2) scale(1,1.0407)" font-family="'Liberation Sans', Arial, Helvetica, sans-serif" font-size="71.5" font-weight="normal" text-anchor="middle" fill="#000">0</text>
<rect x="91.2" y="1586.0" width="3.6" height="739.4" fill="#0a0a14"/>
<rect x="91.2" y="2321.8" width="2110.3" height="3.6" fill="#0a0a14"/>
<text transform="translate(93.0,2385.8) scale(1,1.0407)" font-family="'Liberation Sans', Arial, Helvetica, sans-serif" font-size="71.5" font-weight="normal" text-anchor="middle" fill="#000">0</text>
<text transform="translate(754.5,2385.8) scale(1,1.0407)" font-family="'Liberation Sans', Arial, Helvetica, sans-serif" font-size="71.5" font-weight="normal" text-anchor="middle" fill="#000">0.1</text>
<text transform="translate(1416.0,2385.8) scale(1,1.0407)" font-family="'Liberation Sans', Arial, Helvetica, sans-serif" font-size="71.5" font-weight="normal" text-anchor="middle" fill="#000">0.2</text>
<text transform="translate(2077.5,2385.8) scale(1,1.0407)" font-family="'Liberation Sans', Arial, Helvetica, sans-serif" font-size="71.5" font-weight="normal" text-anchor="middle" fill="#000">0.3</text>
<text transform="translate(2213.5,2378.5) scale(1,0.9150)" font-family="'Liberation Sans', Arial, Helvetica, sans-serif" font-size="69.5" font-weight="normal" text-anchor="middle" fill="#000">(m)</text>
<text transform="translate(1210.0,2474.6) scale(1,1.0000)" font-family="'Liberation Serif', 'Times New Roman', serif" font-size="68.0" font-weight="normal" text-anchor="middle" fill="#000" letter-spacing="0.6">(<tspan font-weight="bold" font-size="69">b</tspan>)</text>
</svg>
</body></html>
